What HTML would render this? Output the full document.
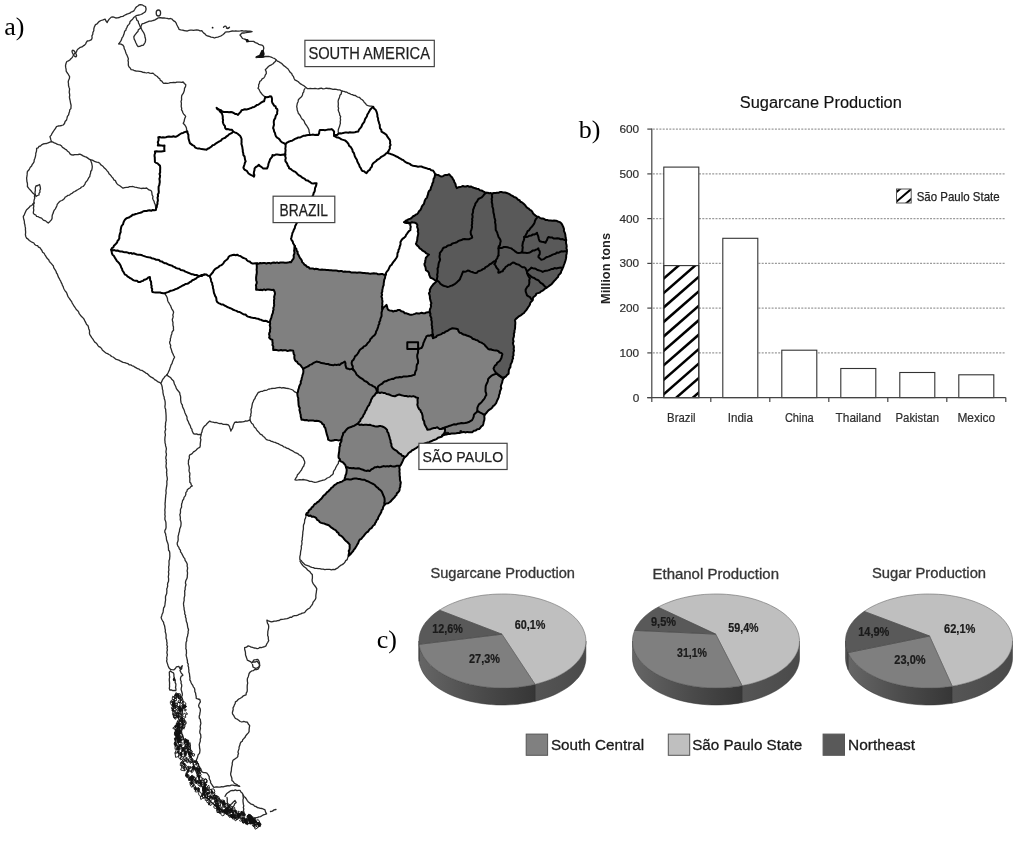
<!DOCTYPE html>
<html><head><meta charset="utf-8"><title>Sugarcane production figure</title>
<style>
html,body{margin:0;padding:0;background:#fff;}
body{width:1024px;height:842px;overflow:hidden;}
svg{display:block;}
</style></head>
<body>
<svg width="1024" height="842" viewBox="0 0 1024 842"><polygon points="257.1,263.4 291.0,262.3 293.5,258.6 294.8,246.1 298.5,254.9 302.2,262.3 309.7,268.6 345.0,271.6 385.7,274.6 384.0,281.6 381.6,293.2 382.4,304.9 382.4,309.0 386.5,304.9 388.2,309.9 393.2,311.5 399.8,309.9 404.8,313.2 411.5,314.8 416.5,313.2 423.1,313.2 429.7,312.3 431.4,318.2 432.2,326.5 433.1,334.8 433.1,338.1 440.0,334.6 447.1,331.0 452.5,328.3 457.8,329.2 459.6,332.8 466.7,335.5 475.7,339.9 482.8,343.5 488.1,348.8 497.0,350.6 502.4,354.2 500.6,359.5 497.0,363.1 493.5,368.4 497.0,373.8 503.3,378.2 504.2,377.3 502.4,380.9 500.6,389.8 498.8,397.0 495.3,404.1 489.9,409.4 486.3,413.0 484.6,414.8 483.7,421.9 482.8,425.5 479.2,429.0 473.9,430.8 472.2,432.2 462.2,432.2 454.7,433.5 444.7,434.7 439.8,437.2 434.8,439.7 424.8,443.5 417.3,447.2 409.8,452.2 404.7,457.3 402.1,462.3 399.6,466.1 399.6,474.8 400.8,482.3 399.6,489.8 394.6,497.3 389.6,502.2 384.6,504.7 379.7,514.7 374.7,524.7 364.7,534.7 359.7,539.7 357.2,544.6 352.2,552.1 348.5,555.9 349.7,544.6 344.7,539.7 334.8,529.7 327.3,524.7 319.8,522.2 314.8,517.2 306.1,514.7 309.8,509.7 317.3,502.2 324.8,494.8 334.8,484.8 344.7,479.8 346.5,472.0 346.0,467.3 344.0,463.5 340.0,461.0 338.5,456.0 339.5,447.0 341.4,439.7 333.1,440.6 328.1,439.7 326.5,433.1 324.0,424.8 319.8,421.5 313.2,420.6 301.5,419.8 299.9,411.5 298.2,399.8 297.4,393.2 299.9,384.9 301.5,379.9 303.2,373.2 303.2,369.1 301.5,366.6 294.9,359.9 293.2,350.8 273.3,350.0 272.4,340.0 269.1,337.5 269.9,330.0 269.8,322.2 273.6,309.7 274.8,292.3 273.6,289.8 256.1,289.8 257.1,263.4" fill="#808080" stroke="none"/>
<polygon points="435.2,174.3 441.3,176.6 449.1,174.3 452.2,177.4 455.3,183.5 456.8,188.2 461.4,186.6 467.6,185.9 475.3,188.2 483.1,191.3 486.1,192.8 492.3,193.6 501.4,192.1 508.5,193.6 517.0,198.5 524.2,204.2 529.9,209.9 535.6,215.6 539.8,217.8 545.5,219.9 554.1,220.6 559.8,222.1 562.6,225.6 564.8,232.7 566.2,239.9 566.9,249.8 566.2,257.0 564.8,262.6 562.6,268.3 559.8,274.0 555.5,279.7 549.8,285.4 545.5,288.3 539.8,292.6 536.3,293.6 532.7,298.9 529.1,306.0 523.8,313.2 518.4,316.7 514.9,320.3 514.9,329.2 513.1,339.9 514.0,350.6 512.2,361.3 509.5,368.4 508.6,373.8 504.2,377.3 503.3,378.2 497.0,373.8 493.5,368.4 497.0,363.1 500.6,359.5 502.4,354.2 497.0,350.6 488.1,348.8 482.8,343.5 475.7,339.9 466.7,335.5 459.6,332.8 457.8,329.2 452.5,328.3 447.1,331.0 440.0,334.6 433.1,338.1 433.1,334.8 432.2,326.5 431.4,318.2 429.7,312.3 431.4,303.2 428.9,293.2 431.4,286.6 436.7,280.6 430.5,277.8 429.0,273.1 425.9,270.1 424.4,263.9 425.9,257.7 429.0,254.6 425.9,253.1 419.7,248.4 415.9,243.8 417.4,237.6 418.2,229.9 416.6,223.7 412.0,222.2 408.9,222.9 404.3,222.2 405.8,220.6 412.0,217.5 418.2,212.9 421.3,208.3 424.4,202.1 427.4,195.9 428.2,192.8 430.5,189.7 432.1,185.1 433.6,178.9 435.2,174.3" fill="#595959" stroke="none"/>
<polygon points="376.8,392.5 383.2,392.9 389.9,394.8 394.9,396.3 399.8,394.6 404.8,396.1 414.8,396.6 418.1,397.9 417.3,404.8 422.3,414.8 424.8,424.8 427.3,429.8 437.3,427.3 440.0,429.0 444.7,428.5 444.7,432.2 442.0,435.5 439.8,437.2 434.8,439.7 424.8,443.5 417.3,447.2 409.8,452.2 404.7,457.3 399.6,453.6 395.0,450.0 392.1,447.4 389.6,437.4 387.1,429.9 382.4,426.5 374.7,426.2 369.9,424.8 359.7,424.9 358.0,423.8 363.0,416.5 366.4,409.8 369.7,403.2 373.0,396.5 376.8,392.5" fill="#c0c0c0" stroke="none"/>
<g fill="none" stroke="#2a2a2a" stroke-width="1.3" stroke-linejoin="round" stroke-linecap="round">
<polyline points="51.5,141.6 50.9,139.9 50.5,138.3 49.9,136.6 51.3,135.1 52.1,133.3 53.2,131.6 54.3,130.0 55.5,128.4 56.5,126.7 58.1,126.0 59.9,125.9 61.6,125.5 63.2,125.0 64.5,123.5 65.1,121.5 66.5,120.0 67.0,118.2 67.4,116.4 68.6,114.8 69.0,113.0 69.6,111.5 69.7,109.9 70.9,108.6 71.0,107.0 71.1,105.2 70.6,103.5 70.3,101.7 70.0,100.0 69.6,98.5 69.4,97.0 69.7,95.5 69.6,94.0 69.2,92.3 69.4,90.6 69.6,88.9 69.0,87.2 68.5,85.5 68.5,83.7 68.2,82.0 68.6,80.2 69.4,78.5 69.6,76.6 68.8,75.2 68.0,73.8 67.0,72.5 66.2,71.1 66.1,69.3 65.7,67.4 65.5,65.6 66.0,63.5 66.8,61.5 68.4,60.9 69.8,60.0 70.9,58.8 72.1,57.6 72.9,56.2 73.7,54.7 74.9,53.2 76.4,52.0 76.9,50.5 77.8,49.2 79.1,48.2 80.3,47.3 82.0,46.9 83.2,45.9 84.6,45.1 85.7,43.9 86.3,42.3 87.3,41.0 89.5,40.7 91.4,39.7 92.1,37.9 91.9,35.9 92.8,34.2 92.9,32.4 93.8,30.8 93.8,29.0 94.2,27.3 95.5,24.6 97.1,23.9 98.2,22.5 99.4,21.3 101.0,20.5 103.1,19.9 105.1,19.1 106.0,21.0 107.2,22.6 108.0,20.8 109.2,19.1 111.3,17.1 112.9,16.9 114.4,17.3 115.8,18.0 117.4,17.8 119.3,17.5 121.0,16.6 122.9,16.4 124.2,15.5 125.5,14.8 126.9,14.1 128.4,13.7 129.9,13.2 131.0,12.1 132.5,11.6 133.8,10.9 134.7,9.5 135.5,8.0 136.6,6.8 137.9,6.0 139.0,5.0 140.5,4.6 142.0,4.8 143.7,5.8 145.5,6.5 146.1,9.0 145.7,10.8 144.8,12.3 143.5,13.0 142.2,13.9 140.8,14.5 139.3,15.0 137.1,15.3 135.2,16.4 133.7,17.6 132.6,19.2 131.1,20.5 130.0,21.7 129.7,23.3 128.7,24.6 127.6,25.8 127.0,27.3 126.2,28.6 125.9,30.2 124.6,31.3 124.3,32.8 123.8,34.6 123.1,36.3 122.0,37.8 121.5,39.6 120.7,41.1 119.8,42.5 118.8,43.8" />
<polyline points="118.8,43.8 121.0,44.1 122.9,45.1 123.9,46.7 124.2,48.6 125.1,50.2 125.6,52.0 126.2,53.7 127.1,55.4 127.7,57.1 128.4,58.8 128.0,60.5 128.4,62.2 128.3,63.9 128.4,65.6 129.1,67.1 130.4,68.2 131.1,69.7 132.9,69.8 134.4,70.7 136.1,71.0 137.9,71.1 139.7,71.3 141.4,71.6 143.0,72.3 144.8,72.5 146.4,73.0 148.1,72.5 149.7,73.2 151.3,73.3 153.0,73.1 154.3,74.4 155.7,75.5 157.3,76.5 158.4,77.9 159.8,78.7 160.3,80.4 161.8,81.1 162.7,82.4 163.9,83.4 165.5,83.1 167.2,83.4 168.8,83.1 170.4,82.7 172.1,82.7 173.7,82.3 175.3,82.7 176.8,82.1 178.4,82.1 180.0,82.2 181.5,82.4 183.1,82.0 184.4,83.5 185.8,84.8 185.5,86.6 184.5,88.3 184.4,90.2 183.9,91.7 183.4,93.1 182.5,94.4 181.7,95.7 181.5,97.7 181.6,99.7 181.0,101.6 181.4,103.2 181.3,104.9 181.2,106.6 181.7,108.2 181.5,109.9 182.4,111.2 182.9,112.7 183.7,114.1 184.8,115.2 185.7,116.5 184.9,118.1 184.4,119.8 184.1,121.6 183.2,123.2 184.6,124.7 185.7,126.3 186.5,128.2 186.6,129.9 187.4,131.5" />
<polyline points="135.9,17.1 136.4,18.6 136.9,20.2 138.3,21.3 138.5,23.0 139.3,24.4 139.8,25.9 140.7,27.3" />
<polyline points="140.7,27.3 139.8,28.8 138.3,29.8 137.9,31.6 136.6,32.8 135.6,34.1 134.6,35.4 133.8,36.9 134.2,39.1 135.2,41.0 135.7,42.5 136.4,43.8 137.0,45.2 137.9,46.5 139.8,46.4 141.5,45.5 143.4,45.1 144.2,43.8 145.1,42.5 145.5,41.0 145.6,39.1 145.0,37.3 144.8,35.5 144.3,34.0 143.7,32.7 142.8,31.4 142.0,30.1 141.4,28.7 140.7,27.3" />
<polyline points="140.7,27.3 141.3,25.6 142.0,23.9 143.9,23.3 145.7,22.6 147.5,21.9 149.3,21.1 151.2,21.1 153.0,20.5 154.5,20.2 155.8,19.4 157.1,18.6 158.4,17.8 160.2,17.7 162.1,18.0 163.9,17.8 165.5,18.1 167.2,18.3 168.8,18.8 170.5,18.5 172.1,19.1 173.3,20.6 175.1,21.6 176.2,23.2 176.8,24.8 177.6,26.3 178.5,27.8 179.0,29.4 180.7,29.9 182.4,30.1 184.1,30.5 185.8,30.8 187.4,31.0 188.9,30.4 190.4,30.1 191.9,30.2 193.5,30.4 195.0,30.1 196.7,30.0 198.4,30.1 200.1,30.8 201.8,30.6 202.7,31.9 203.8,33.1 205.1,34.0 206.2,35.3 207.7,36.0 209.4,36.4 211.1,37.1 212.9,37.3 214.5,38.0 216.1,37.4 217.8,37.2 219.4,36.5 221.2,35.8 222.8,34.8 224.3,33.6 225.3,32.1 227.0,31.8 228.8,31.8 230.6,31.4 232.3,31.0 234.1,31.1 235.7,31.0 237.2,31.2 238.8,31.1 240.4,30.9 241.9,30.6 243.8,31.1 245.8,30.8 247.7,31.1 249.9,31.1 252.1,31.6 249.9,32.0 247.7,32.3 245.8,32.7 243.9,33.0 242.0,33.0 240.0,35.0 241.3,36.7 242.5,38.5 244.1,39.0 245.8,39.4 247.7,41.4 249.7,41.4 251.6,41.3 253.6,41.4 255.4,42.6 257.5,43.3 258.8,44.4 260.5,44.8 262.1,45.2 263.4,46.3 263.8,48.2 263.4,49.8 262.4,51.1 261.6,53.0 261.4,55.0 259.8,56.2 257.7,56.5 256.0,57.5 257.9,57.4 259.7,57.1 261.6,57.4 263.4,57.0 265.3,56.5 267.2,56.4 269.2,56.5 271.2,57.2 273.1,58.0 274.8,58.6 276.1,59.9 277.3,61.1 278.9,61.7 280.3,62.6 281.8,63.5 282.9,64.8 284.1,65.9 285.4,66.7 286.5,67.8 287.8,68.7 288.7,70.0 289.6,71.3 290.4,72.6 291.7,73.6 292.3,75.2 293.5,76.6 294.0,78.2 294.8,79.8 296.4,80.6 298.0,81.5 299.3,82.8 300.6,83.9 302.2,84.8 303.6,85.5 304.8,86.5 306.0,87.5 307.2,88.5 308.8,88.7 310.3,88.5 311.9,88.6 313.4,88.7 315.0,88.4 316.6,88.7 318.1,88.8 319.7,88.5 321.4,88.2 323.0,88.8 324.7,88.7 326.4,88.2 328.0,88.5 329.7,88.5 331.4,88.8 333.0,89.3 334.7,89.1 336.4,89.4 338.0,89.9 339.7,89.8 341.0,90.6 342.4,91.2 344.0,91.4 345.3,92.0 346.9,92.2 348.1,93.1 349.6,93.5 350.9,94.3 352.4,94.7 353.8,95.3 355.4,95.5 356.6,96.5 358.0,97.1 359.6,97.3 360.6,98.8 362.2,99.8 363.5,101.0 364.3,102.5 365.6,103.6 366.5,105.0 368.1,105.7 369.8,106.1 371.6,106.2 373.2,106.7" />
<polyline points="276.1,59.9 275.4,61.4 274.1,62.5 273.1,63.8 271.4,64.8 269.7,65.6 268.2,66.8 266.8,68.3 265.3,69.7 266.2,71.6 266.3,73.6 265.3,74.9 264.8,76.5 263.8,78.0 262.1,78.9 261.2,80.5 259.7,81.6 259.4,83.3 258.6,84.9 258.7,86.7 258.0,88.3 259.1,89.4 259.7,90.8 260.4,92.2 261.4,93.3 262.5,94.8 263.9,95.9 265.3,97.1" />
<polyline points="305.0,88.5 304.0,90.0 303.8,91.8 302.8,93.2 302.5,95.0 301.7,96.5 300.6,97.6 299.3,98.7 298.3,100.0 298.1,101.7 297.3,103.3 297.0,105.0 296.7,106.7 297.1,108.4 297.2,110.1 297.9,111.7 298.3,113.3 299.4,114.5 300.4,115.9 301.1,117.5 302.0,118.9 303.3,120.0 304.3,121.3 304.7,122.9 305.5,124.3 306.6,125.5 307.4,126.9 308.3,128.3 309.0,129.9 309.1,131.6 309.6,133.3 310.0,134.9" />
<polyline points="342.1,91.0 341.4,92.4 341.2,94.1 339.9,95.3 339.6,96.9 339.1,98.4 338.4,99.8 338.1,101.5 338.3,103.2 338.3,104.9 338.1,106.6 338.6,108.3 338.2,110.0 338.8,111.7 339.5,113.3 339.7,115.1 340.7,116.6 340.2,118.2 340.6,119.9 340.2,121.6 340.4,123.3 339.9,124.9 339.5,126.6 338.8,128.2 338.3,129.8 338.2,131.6 338.5,133.5" />
<polyline points="51.5,141.6 49.9,142.2 48.2,142.8 46.6,143.5 44.9,143.7 43.1,144.0 41.6,144.9 40.5,146.0 39.0,146.4 38.1,147.8 36.6,148.3 36.6,150.0 36.4,151.6 35.8,153.2 35.7,154.9 35.4,156.6 34.9,158.3 34.2,159.9 34.1,161.6 33.3,163.2 32.2,164.5 31.6,166.1 30.3,167.3 29.5,168.8 28.6,170.3 27.4,171.5 27.2,173.2 27.1,174.9 26.9,176.5 26.6,178.2 26.8,179.9 26.9,181.5 27.4,183.2 27.5,184.8 27.4,186.5 28.4,187.8 29.4,189.1 30.5,190.3 31.6,191.5 32.5,192.8 33.7,193.8 34.9,194.8 34.4,196.4 34.8,198.1 34.2,199.7 33.9,201.3 34.0,203.0" />
<polyline points="36.0,186.0 37.9,185.5 39.5,184.5 40.0,186.0 40.3,187.5 40.5,189.0 39.8,190.4 40.0,192.1 39.0,193.4 39.0,195.0 37.4,195.5 36.0,196.5 35.4,195.1 35.1,193.5 35.0,192.0 35.4,190.5 35.3,189.0 35.4,187.4 36.0,186.0" />
<polyline points="34.0,203.0 33.6,204.7 33.8,206.4 33.4,208.0 33.8,209.8 33.5,211.4 33.3,213.1 34.3,214.3 35.8,215.0 36.6,216.4 38.3,216.7 39.9,217.7 41.6,218.1 42.7,219.4 44.0,220.4 45.7,220.9 46.9,222.1 48.2,223.1 49.4,222.1 50.4,220.9 51.5,219.8 52.1,218.2 52.1,216.4 52.4,214.7 53.2,213.1 53.6,211.5 54.3,210.1 55.4,208.8 56.1,207.4 56.8,206.0 57.2,204.4 58.2,203.1 59.2,202.0 60.4,201.0 61.9,200.5 63.2,199.6 64.3,198.7 65.1,197.2 66.5,196.5 67.7,195.4 69.5,195.1 70.6,194.0 72.1,193.3 73.3,192.2 74.8,191.5 76.2,190.6 77.6,189.8 78.9,189.0 80.4,188.2 81.5,187.0 83.1,186.5 84.1,185.3 85.0,184.2 85.4,182.6 86.4,181.5 87.4,180.4 88.1,179.0 88.8,177.6 89.8,176.5 90.0,174.8 90.6,173.2 90.7,171.5 91.8,170.0 92.1,168.3 92.3,166.6 92.0,164.9 91.7,163.2 91.1,161.5 90.6,159.9" />
<polyline points="51.5,141.6 52.9,142.1 54.3,142.8 55.7,143.3 57.0,144.2 58.4,144.6 59.9,144.9 61.3,145.7 62.3,147.2 63.7,148.1 65.0,149.1 66.5,149.9 67.6,151.3 69.1,152.3 70.0,153.9 71.5,154.9 73.2,155.0 74.8,154.7 76.5,154.6 78.2,154.5 79.8,154.1 81.5,154.9 83.1,155.9 84.8,156.6 86.4,157.1 87.8,158.1 89.2,159.1 90.6,159.9" />
<polyline points="90.6,159.9 92.3,160.1 93.7,160.9 95.2,161.7 96.7,162.2 98.3,162.4 99.8,163.2 100.6,164.6 101.9,165.5 103.2,166.5 104.1,167.8 105.3,168.8 106.4,169.9 107.3,171.1 108.4,172.2 109.0,173.7 110.1,174.7 111.1,175.9 112.0,177.1 113.1,178.2 113.8,179.8 115.4,180.6 116.0,182.2 116.9,183.6 118.1,184.8 119.8,185.8 121.4,187.0 123.0,188.2 124.6,187.6 126.3,187.4 128.0,187.3 129.6,186.7 131.3,186.6 133.0,186.5 134.7,187.2 136.5,187.4 138.2,187.8 140.0,188.2 141.7,188.5 143.3,188.2 145.0,188.4 146.6,188.0 147.8,188.9 149.0,189.9 150.5,190.3 151.6,191.4 151.9,193.1 152.1,194.9 153.0,196.5 152.6,198.3 153.3,200.0 154.1,201.4 154.4,203.0 155.2,204.4 155.5,206.0 155.7,208.0 155.9,210.0" />
<polyline points="34.0,203.0 32.7,204.1 31.8,205.5 30.1,206.1 29.1,207.6 27.8,208.7 26.6,209.8 25.7,211.4 25.0,213.1 24.3,214.8 23.3,216.4 23.5,218.1 23.9,219.8 24.4,221.4 24.4,223.2 24.9,224.8 25.1,226.4 25.5,228.1 25.4,229.7 25.6,231.4 25.6,233.0 25.4,234.7 25.8,236.5 26.6,238.1 28.1,239.1 29.3,240.5 30.8,241.5 32.4,242.4 33.9,243.0 34.7,244.5 35.9,245.3 37.6,245.7 38.5,247.1 39.9,247.7 40.9,249.1 41.9,250.5 42.6,252.2 44.1,253.3 44.9,254.8 45.8,256.1 46.5,257.5 47.6,258.7 48.7,259.8 49.3,261.3 50.3,262.5 51.4,263.6 52.4,264.8 53.4,266.0 53.7,267.6 54.5,268.9 55.3,270.1 56.1,271.5 56.5,273.0 57.4,274.2 57.9,275.7 58.4,277.1 59.2,278.4 59.9,279.8 60.7,281.1 61.2,282.6 62.0,283.9 62.4,285.4 63.2,286.6 63.6,288.2 64.3,289.5 65.1,290.8 66.1,292.0 66.9,293.3 67.3,294.8 67.9,296.3 68.8,297.7 69.7,299.0 70.7,300.3 71.6,301.6 72.2,303.1 73.1,304.5 73.9,305.9 74.8,307.2 75.7,308.5 76.5,309.8 77.8,310.8 78.7,312.1 79.2,313.7 80.2,314.9 81.1,316.1 82.3,317.2 83.5,318.4 84.4,319.9 85.1,321.4 85.9,322.9 86.6,324.4 87.9,325.6 88.5,327.2 88.7,328.7 89.4,330.1 89.6,331.6 89.4,333.2 89.8,334.7 90.8,336.2 91.7,337.7 92.9,339.1 93.8,340.6 94.8,342.1 96.1,343.0 97.1,344.2 98.0,345.6 99.0,346.7 100.5,347.4 101.6,348.6 102.3,350.1 103.5,351.1 104.7,352.1 106.0,353.1 107.6,353.6 108.9,354.5 110.4,355.3 111.5,356.5 113.1,357.0 114.4,358.0 115.6,359.1 117.2,359.6 118.8,360.1 120.2,360.9 121.6,361.6 123.1,362.4 124.7,362.6 126.2,363.2 127.8,363.6 129.1,364.8 130.8,364.9 132.2,365.8 133.7,366.2 134.9,367.2 136.3,367.9 137.6,368.7 139.2,369.2 140.4,370.2 142.0,370.4 143.3,371.2 144.6,372.1 145.8,373.1 147.3,373.7 148.4,374.8 149.5,376.0 150.8,376.9 152.2,377.6 153.5,378.4 154.6,379.6 156.2,380.4 157.6,381.6 159.3,382.3 160.8,383.3 161.8,385.3 162.3,387.5 162.4,389.1 162.9,390.6 162.9,392.3 163.2,393.8 163.5,395.4 164.2,396.9 164.2,398.5 164.8,400.0 165.1,401.6 165.2,403.2 165.2,404.7 164.9,406.4 165.1,407.9 165.7,409.5 165.7,411.1 165.9,412.6 166.0,414.2 166.1,415.8 166.1,417.4 166.1,418.9 166.2,420.4 165.8,421.9 165.5,423.4 165.6,424.9 165.3,426.4 165.4,427.9 165.7,429.4 165.1,430.9 164.9,432.4 165.3,433.9 165.4,435.4 165.0,436.9 164.9,438.4 164.8,439.9 165.0,441.4 165.0,442.9 165.5,444.4 165.6,445.9 166.1,447.3 166.4,448.9 166.1,450.5 165.9,452.1 166.4,453.7 166.4,455.3 165.9,456.8 165.8,458.4 166.4,460.0 166.0,461.6 166.4,463.2 166.1,464.8 166.0,466.3 166.2,467.8 166.7,469.3 166.8,470.8 166.5,472.3 166.8,473.8 166.7,475.3 167.1,476.8 167.3,478.3 167.3,479.8 166.8,481.3 166.9,482.9 166.9,484.5 166.7,486.0 166.4,487.5 166.2,489.1 165.9,490.6 166.1,492.2 166.1,493.7 165.7,495.2 165.7,496.7 165.5,498.2 165.4,499.7 165.3,501.2 165.2,502.7 165.0,504.2 165.2,505.7 165.2,507.2 165.0,508.7 164.8,510.2 165.0,511.7 165.0,513.2 164.8,514.7 165.2,516.2 164.9,517.8 164.9,519.4 165.5,520.9 165.9,522.4 166.0,524.0 166.0,525.5 166.1,527.1 165.8,528.8 164.9,530.3 164.8,532.1 165.6,533.7 165.8,535.4 166.3,537.0 166.4,538.8 166.7,540.5 167.3,542.1 167.9,543.6 168.3,545.2 168.3,546.8 168.5,548.4 168.5,550.0 169.5,551.4 169.8,553.0 169.8,554.6 169.9,556.2 169.7,557.7 169.6,559.3 169.0,560.8 169.0,562.3 169.1,563.9 169.0,565.5 168.6,567.0 168.8,568.6 168.9,570.2 168.4,571.9 168.8,573.5 168.6,575.1 168.3,576.8 168.6,578.4 168.6,580.0 168.5,581.5 167.8,582.9 167.5,584.4 167.7,586.0 167.3,587.5 166.7,588.9 166.9,590.5 166.8,592.0 166.7,593.6 166.1,595.0 165.5,596.6 165.5,598.3 165.6,600.0 165.3,601.6 165.1,603.2 164.9,604.9 164.6,606.5 163.6,607.9 163.4,609.6 163.2,611.2 162.9,612.8 162.1,614.3 161.7,615.9 161.1,617.4 161.7,619.2 162.6,620.8 163.6,622.4 163.8,624.0 164.5,625.5 164.8,627.0 165.0,628.6 165.4,630.2 165.2,631.8 165.8,633.3 166.1,634.9 166.1,636.6 166.0,638.2 166.7,639.9 166.7,641.5 167.1,643.2 166.8,644.9 167.5,646.5 167.0,648.2 167.4,649.8 167.0,651.4 166.9,653.0 167.4,654.6 167.1,656.2 166.7,657.8 167.0,659.4 166.6,661.0 167.1,662.6 167.6,664.1 168.1,665.7 168.9,667.7 170.4,669.3 172.2,669.6 174.0,669.8 175.4,668.5 176.4,666.9 178.8,666.3 180.0,668.7 181.0,667.1 182.3,665.7 181.8,667.2 181.7,668.7 180.0,670.4 181.1,672.8 182.1,674.0 182.9,675.2 181.1,676.4 180.5,678.1 180.5,680.0 181.2,681.5 181.0,683.2 181.7,684.7 181.7,686.3 181.3,687.8 181.1,689.4 181.7,691.5 182.3,693.6 182.3,695.2 181.7,696.6 182.0,698.4 182.9,700.1 183.1,701.7 183.1,703.3 183.3,704.8 183.1,706.4 183.0,708.0 182.8,709.6 182.4,711.2 182.5,712.8 182.1,714.4 182.0,716.0 182.5,717.6 182.5,719.2 182.6,720.8 182.4,722.4 183.0,724.0 182.2,725.4 181.9,727.0 181.9,728.6 181.0,730.0 181.6,731.7 181.8,733.5 182.7,735.2 183.0,737.0 183.5,738.5 184.0,740.0 184.9,741.4 184.6,743.1 185.3,744.6 186.0,746.0 186.8,747.3 187.1,748.9 187.9,750.2 188.4,751.7 188.8,753.2 189.6,754.5 190.0,756.0 190.7,757.4 191.2,758.8 191.6,760.3 192.5,761.6 193.1,763.1 193.3,764.6 194.0,766.0 194.7,767.4 194.8,769.0 195.7,770.3 196.1,771.8 197.0,773.1 197.2,774.7 198.0,776.0 198.9,777.5 199.5,779.1 200.1,780.7 200.3,782.4 201.0,784.0 201.4,785.5 202.4,786.7 202.9,788.2 203.2,789.7 204.0,791.0 204.2,792.5 204.8,793.9 205.0,795.5 205.0,797.0 206.4,797.8 207.7,798.8 208.8,799.9 210.2,800.7 211.0,802.3 212.5,803.0 213.7,804.0 215.0,805.0 216.1,806.1 217.3,807.1 218.5,808.1 219.9,808.8 221.1,809.8 222.3,810.8 223.7,811.5 224.7,812.8 225.9,813.8 227.4,814.6 228.9,815.4 230.6,815.9 232.2,816.4 233.8,816.9 235.3,817.3 237.0,817.1 238.5,817.7 240.1,818.0 241.6,818.4 243.1,818.8 244.8,818.7 246.3,819.3 247.8,819.7 249.4,820.0 251.0,819.7 252.6,819.2 254.1,818.5 255.6,817.7 257.3,817.6 258.8,816.9 260.5,816.6 261.9,815.7 263.4,814.9 265.0,814.4 266.6,813.8 265.5,811.9 265.0,809.8 263.5,809.2 262.0,808.5 260.3,808.4 258.8,807.8 257.2,807.5 256.0,806.5 254.5,806.1 253.5,804.8 252.1,804.3 250.6,803.8 249.4,802.8 248.1,801.7 247.1,800.3 246.3,798.9 245.3,797.5 244.0,796.4 243.1,795.0 242.4,793.2 240.9,791.9 240.0,790.3 238.4,790.3 236.9,790.6 235.3,789.9 233.8,790.6 232.2,790.3 230.5,790.8 229.1,791.9 227.8,792.8 226.5,793.8 225.7,795.1 225.0,796.5" />
<polyline points="243.1,795.0 243.1,796.6 243.4,798.1 243.0,799.7 243.0,801.3 243.2,802.8 243.4,804.4 243.8,805.9 243.3,807.5 243.8,809.0 243.4,810.6 244.0,812.2 243.8,813.7 243.9,815.3" />
<polyline points="270.5,811.5 272.4,811.1 274.1,809.9 276.0,809.5" />
<polyline points="164.8,293.3 165.4,294.7 166.4,296.0 167.0,297.3 167.5,298.8 167.6,300.5 168.2,301.8 169.1,303.2 169.8,304.5 170.7,305.9 171.2,307.6 171.9,309.1 172.9,310.5 173.6,312.0 173.3,313.5 172.8,315.0 173.2,316.6 172.8,318.0 172.3,319.5 172.5,321.0 173.0,322.5 172.9,324.0 173.0,325.5 173.5,327.0 173.4,328.5 173.6,330.0 172.0,332.2 171.8,333.9 171.1,335.5 170.9,337.2 170.3,338.8 170.4,340.5 169.6,342.1 169.9,343.8 170.7,345.4 170.4,347.2 171.1,348.8 171.6,350.4 172.0,352.1 172.9,353.7 173.6,355.5 174.6,357.1 173.8,358.6 173.2,360.1 172.5,361.7 172.1,363.4 171.1,364.8 170.6,366.4 170.0,367.9 169.6,369.6 168.8,371.3 168.0,373.0 167.1,374.6" />
<polyline points="167.1,374.6 166.0,375.7 164.8,376.6 164.0,377.9 163.0,379.0 162.2,380.4 161.6,381.9 160.8,383.3" />
<polyline points="167.1,374.6 168.1,376.1 169.7,377.0 171.0,378.1 172.0,379.6 173.6,381.0 174.0,382.5 174.4,384.0 175.1,385.3 175.8,386.7 176.2,388.2 177.0,389.5 178.5,391.2 179.8,393.0 179.9,394.6 180.5,396.1 180.7,397.7 180.6,399.3 180.8,400.8 181.0,402.4 181.6,403.8 182.4,405.1 182.5,406.7 183.2,408.1 183.9,409.5 184.4,410.9 184.8,412.4 185.5,413.9 186.2,415.4 187.0,417.0 187.0,418.8 187.6,420.4 188.4,421.8 188.9,423.4 189.8,424.9 190.5,426.3 190.8,427.9 191.9,429.2 192.1,430.8 192.8,432.2 193.5,433.6 194.9,434.2 196.6,433.8 198.0,434.6 199.6,434.3 201.0,434.9 200.8,436.4 200.3,438.0 200.9,439.6 200.6,441.1 200.4,442.7 200.2,444.2 200.3,445.8 199.8,447.3 198.4,448.0 197.1,449.0 196.1,450.2 194.9,451.1 193.5,451.9 192.5,453.2 191.3,454.2 189.8,454.8 189.2,456.2 189.4,457.8 189.0,459.3 188.4,460.7 188.5,462.3 188.3,463.9 188.8,465.4 189.2,467.0 189.3,468.5 189.0,470.1 189.2,471.7 189.9,473.2 189.8,474.8 189.5,476.6 189.9,478.5 189.8,480.4 189.8,482.2 190.9,483.3 191.2,484.9 192.3,486.0 190.8,486.6 189.9,488.0 188.5,488.7 187.3,489.7 186.9,491.4 185.8,492.7 185.8,494.5 185.1,496.1 184.0,497.4 183.7,499.1 182.6,500.5 182.3,502.2 181.7,503.7 181.5,505.3 181.6,506.9 180.9,508.4 180.4,509.9 180.5,511.6 180.4,513.2 179.8,514.7 180.2,516.3 180.4,518.0 180.2,519.7 180.8,521.3 181.1,522.9 181.0,524.6 180.8,526.3 180.1,527.9 179.6,529.5 179.5,531.3 178.9,532.9 178.6,534.6 178.1,536.2 178.1,537.9 178.2,539.6 177.9,541.3 177.2,542.9 177.3,544.6 177.9,546.1 178.9,547.4 179.3,548.9 180.5,550.2 180.5,551.9 181.6,553.2 182.3,554.6 183.0,556.0 183.7,557.4 184.8,558.7 185.1,560.3 186.0,561.6 186.8,563.0 187.3,564.5 187.1,566.1 187.6,567.6 187.5,569.2 187.1,570.8 187.5,572.3 187.5,573.9 187.3,575.4 187.3,577.0 186.9,578.6 186.1,580.0 185.6,581.5 185.4,583.1 186.0,584.7 185.5,586.3 185.1,587.8 185.2,589.4 184.6,590.9 184.8,592.5 184.7,594.1 184.8,595.6 184.3,597.1 184.1,598.7 184.2,600.3 183.8,601.8 183.5,603.3 183.6,604.9 183.8,606.4 184.1,607.9 184.1,609.4 184.5,610.9 184.8,612.4 184.7,614.0 185.6,615.4 185.4,616.9 186.1,618.4 186.1,619.9 186.4,621.6 187.1,623.2 187.4,624.9 187.6,626.6 188.0,628.3 188.6,629.9 188.1,631.4 188.2,633.0 187.7,634.6 187.6,636.1 187.0,637.6 186.7,639.2 186.8,640.8 186.1,642.3 186.0,643.9 185.9,645.4 186.0,647.0 185.8,648.5 186.4,650.1 186.4,651.7 186.5,653.2 186.1,654.8 186.4,656.4 186.8,657.9 187.1,659.5 187.5,661.0 187.4,662.7 188.3,664.1 188.0,665.8 188.6,667.3 188.7,668.9 188.9,670.4 188.8,672.0 189.4,673.5 189.6,675.1 189.7,676.7 190.0,678.2 189.8,679.8 190.6,681.1 191.1,682.7 191.9,684.1 192.8,685.4 193.3,686.9 194.4,688.1 194.8,689.7 194.8,691.5 195.6,693.1 195.8,694.8 196.2,696.5 196.2,698.3 198.0,699.0 199.8,699.5 200.4,701.9 199.3,703.6 198.6,705.5 199.0,707.1 200.1,708.5 200.4,710.2 200.2,711.7 199.9,713.2 199.7,714.7 199.2,716.2 199.3,718.1 200.4,719.7 200.5,721.5 200.9,723.3 200.5,724.9 200.1,726.6 200.5,728.3 200.1,729.9 199.8,731.6 199.9,733.1 200.7,734.5 200.8,736.1 200.9,737.6 200.2,739.3 200.3,741.2 199.7,742.9 199.2,744.7 199.5,746.5 199.6,748.2 200.0,750.0 199.8,751.8 199.5,753.4 198.2,754.7 197.8,756.2 197.4,757.8 196.6,759.5 196.2,761.3 197.3,762.7 198.2,764.2 198.9,765.8 199.8,767.3 200.8,768.8 201.4,770.4 202.1,772.0 203.6,772.7 205.3,772.7 206.9,773.2 208.2,774.9 209.3,776.8 209.2,778.4 209.8,779.8 210.6,781.2 210.5,782.7 211.7,784.3 212.7,786.0 214.0,787.5 215.5,787.0 217.0,787.0 218.6,787.1 220.1,787.1 221.7,786.7 223.2,786.8 224.7,786.3 226.4,786.0 228.0,785.7 229.7,785.9 231.3,785.2 233.0,785.1 234.6,785.6 236.3,785.5 238.0,785.9 239.6,786.3" />
<polyline points="201.0,434.9 201.3,433.3 202.0,431.9 202.2,430.3 202.8,428.8 203.5,427.4 204.6,426.0 206.0,424.9 207.1,423.5 208.4,422.3 209.7,421.1 211.3,421.9 213.0,422.1 214.6,422.6 216.4,422.5 218.1,423.1 219.7,423.6 221.5,423.5 223.2,424.3 224.9,424.3 226.7,424.5 228.4,424.9 229.4,426.3 229.9,427.9 230.5,429.5 230.9,431.1 231.5,429.6 232.5,428.3 233.0,426.8 233.3,425.2 234.0,423.8 234.7,422.4 236.2,422.0 237.8,422.4 239.3,421.8 240.9,422.0 242.5,421.8 244.0,421.7 245.5,420.9 247.1,421.1 248.5,420.5 250.0,420.2" />
<polyline points="250.0,420.2 250.1,418.7 250.1,417.1 250.9,415.7 250.7,414.1 251.2,412.7 251.2,411.1 251.0,409.6 251.6,408.1 251.9,406.4 252.2,404.7 252.5,403.1 253.3,401.5 253.9,399.8 255.0,398.5 255.5,396.8 256.5,395.4 257.4,393.9 258.3,392.4 259.8,392.0 261.1,391.3 262.7,391.3 264.0,390.5 265.6,390.4 267.0,390.0 268.4,389.2 269.9,389.0 271.5,388.5 273.2,388.3 274.9,388.4 276.6,387.9 278.2,387.6 279.9,387.4 281.5,388.0 283.3,387.7 284.9,388.0 286.6,388.3 288.3,388.5 289.9,389.0 291.6,389.5 293.1,390.3 294.3,391.6 295.9,392.4 297.4,393.2" />
<polyline points="250.0,420.2 250.7,421.7 251.6,423.2 253.0,424.2 253.7,425.8 254.4,427.2 255.8,428.3 256.6,429.8 257.6,431.0 258.7,432.1 259.7,433.4 260.8,434.4 262.3,435.1 263.2,436.5 264.6,437.3 265.5,438.6 266.6,439.7 268.1,440.1 269.6,440.3 270.9,441.1 272.4,441.5 273.7,442.1 275.2,442.4 276.6,443.1 278.2,443.6 279.5,444.5 280.9,445.2 282.4,445.7 283.7,446.8 285.3,447.2 286.6,448.1 288.2,448.5 289.6,449.4 291.0,450.2 292.5,450.8 293.8,451.8 295.2,452.6 296.7,453.2 298.2,453.9 299.3,455.0 300.9,455.7 302.0,456.9 303.2,458.0 303.8,459.6 304.6,461.2 304.8,463.0 304.2,464.4 303.8,466.0 302.8,467.2 302.1,468.6 301.5,470.0 300.5,471.2 299.6,472.5 298.6,473.7 297.4,474.8 296.9,476.6 295.8,478.2 294.9,479.8 296.5,480.1 298.2,479.9 299.9,479.6 301.5,479.9 303.1,479.5 304.8,479.8 306.5,480.2 308.1,480.7 309.7,481.4 311.5,481.4 313.1,481.9 314.8,482.3 316.6,482.2 318.2,481.7 319.8,481.1 321.5,480.7 323.1,480.1 324.8,479.8 326.0,478.9 327.2,478.0 328.7,477.5 330.0,476.7 331.0,475.6 332.3,474.8 333.3,473.5 333.4,471.8 334.2,470.4 335.2,469.1 335.7,467.6 336.5,466.2 337.3,464.8 338.4,463.4 338.5,461.5 339.5,460.0" />
<polyline points="306.1,514.7 305.9,516.4 305.5,518.1 304.7,519.7 304.6,521.4 304.4,523.1 303.6,524.7 303.4,526.2 303.4,527.7 303.4,529.2 303.1,530.7 302.8,532.2 302.8,533.7 302.6,535.2 302.5,536.7 302.2,538.2 302.3,539.7 301.7,541.3 302.0,543.0 301.8,544.7 301.2,546.3 301.4,548.0 301.1,549.6 300.7,551.2 300.5,552.9 300.4,554.6 299.9,556.2 299.8,557.9 299.9,559.6 301.3,560.7 302.3,562.2 303.6,563.3 304.8,564.6 306.2,565.2 307.7,565.6 309.1,566.0 310.4,566.9 311.9,567.3 313.4,567.6 314.8,568.3 316.5,568.3 318.2,568.6 319.8,568.7 321.5,569.2 323.2,569.1 324.8,569.6 326.5,569.3 328.1,569.3 329.8,569.3 331.5,569.8 333.1,569.3 334.8,569.6 336.3,568.6 337.9,567.8 339.2,566.6 340.6,565.4 342.2,564.6 343.7,563.6 344.9,562.3 345.7,560.6 347.2,559.6 347.7,557.7 348.5,555.9" />
<polyline points="299.9,561.0 300.9,562.8 302.0,564.5 303.4,566.2 305.2,567.5 306.5,568.6 307.6,570.0 309.0,571.0 310.2,572.1 311.1,573.5 312.3,574.6 312.4,576.4 312.4,578.2 312.1,579.9 312.3,581.7 313.0,583.3 313.9,584.7 315.0,586.0 316.0,587.4 316.8,588.9 316.5,590.7 316.3,592.5 316.0,594.2 315.8,596.0 315.9,597.8 315.3,599.4 314.2,600.8 313.1,602.2 312.6,603.8 311.7,605.3 310.6,606.7 309.8,608.0 308.4,608.8 307.1,609.6 306.0,610.7 305.2,612.0 303.8,612.9 302.2,613.1 300.8,613.9 299.2,614.3 297.8,615.1 296.3,615.6 294.6,615.7 293.1,616.1 291.7,617.3 290.0,617.2 288.6,618.1 287.0,618.7 285.4,618.9 283.8,619.2 282.2,619.3 280.6,619.5 279.2,620.5 277.6,620.6 276.1,621.2 274.4,621.1 272.9,621.5 271.3,621.8 269.8,621.3 268.3,620.8 266.9,620.1 267.1,621.7 267.5,623.3 268.4,624.7 268.7,626.3 268.6,628.1 268.2,629.8 267.8,631.6 267.8,633.4 267.6,635.2 268.3,637.0 268.3,638.8 268.7,640.6 267.8,642.3 266.7,644.0 266.0,645.9 264.6,646.6 263.1,647.0 261.6,647.6 260.0,647.4 258.6,648.3 257.1,648.6 255.6,648.2 254.0,648.0 252.6,647.4 251.1,647.2 249.7,646.3 248.2,645.9 246.5,647.1 244.6,647.7 244.7,649.5 245.2,651.2 245.5,653.0 245.5,654.8 246.1,656.6 246.8,658.4 247.3,660.2 248.9,660.9 250.4,661.6 251.7,662.8 253.4,661.9 255.4,662.0 257.1,661.1 258.1,662.5 259.2,663.9 259.8,665.5 259.1,667.4 258.0,669.1 256.4,669.6 254.7,669.6 253.3,670.7 251.7,670.9 250.2,672.0 249.1,673.5 248.7,675.1 248.3,676.7 247.5,678.2 247.3,679.8 247.4,681.5 247.7,683.2 247.3,684.9 247.2,686.6 247.2,688.3 247.3,690.0 247.1,691.6 246.2,693.1 246.1,694.8 244.5,695.4 242.9,696.2 241.7,697.5 240.2,698.3 238.8,699.0 237.7,700.0 236.8,701.2 235.4,701.9 235.2,703.5 234.4,704.9 233.9,706.4 233.0,707.8 233.2,709.3 232.9,710.8 232.4,712.3 232.5,713.8 233.6,715.3 234.4,716.9 235.4,718.5 237.2,719.2 238.7,720.3 240.2,721.5 241.9,722.0 243.8,721.4 245.5,722.0 247.3,722.1 248.3,724.0 249.7,725.7 249.3,727.6 249.1,729.6 249.1,731.6 248.1,733.1 246.8,734.5 245.7,735.9 244.9,737.6 243.8,738.6 242.7,739.7 242.3,741.3 240.9,742.1 240.2,743.5 239.8,745.3 239.1,747.0 239.0,748.9 238.4,750.6 237.9,752.1 238.5,753.6 237.9,755.1 237.8,756.6 236.7,757.7 235.5,758.5 234.3,759.4 233.0,760.2 232.6,761.7 232.2,763.1 232.3,764.6 231.9,766.1 231.5,767.9 231.4,769.7 231.2,771.5 230.7,773.2 230.7,775.1 231.4,776.8 231.9,778.5 231.9,780.4 233.2,781.5 234.1,782.9 235.4,783.9 236.9,784.5 238.1,785.7 239.6,786.3" />
<polyline points="251.7,662.8 252.9,661.3 254.0,659.8 255.9,659.7 257.8,659.3 258.9,661.0 259.5,663.0 259.5,665.1 258.8,667.0 257.3,667.9 255.5,668.3 253.0,667.0 252.5,664.5" />
<polyline points="170.4,671.0 169.3,672.2 169.4,673.9 169.4,675.5 169.7,677.1 169.3,678.8 169.3,680.4 169.5,681.9 169.6,683.4 169.5,685.0 169.6,686.7 169.3,688.4 169.8,690.0 171.3,689.9 172.8,690.6 174.3,690.3 175.8,690.6 176.0,689.1 175.5,687.5 175.8,686.0 175.9,684.1 175.1,682.4 175.3,680.5 174.6,678.8 174.1,677.3 173.9,675.8 173.9,674.3 173.4,672.8 171.8,672.1 170.4,671.0" />
<polyline points="227.0,797.5 227.3,799.3 227.2,801.2 227.5,803.0 227.9,805.1 229.0,807.0 229.9,805.7 230.8,804.5 232.0,803.5 233.4,801.9 235.0,800.5 236.2,802.5 234.7,803.8 234.0,805.7 232.5,807.0 231.6,809.0 230.8,811.0 232.4,811.9 233.8,813.0" />
<ellipse cx="158.4" cy="13" rx="2.2" ry="3" />
<ellipse cx="74.3" cy="53.5" rx="1.4" ry="3.6" transform="rotate(-30 74.3 53.5)"/>
<path d="M223.5,27.2 q2,-2 3,0 q1,2 3,0 q-1,2 -3,1"/>
</g>
<g fill="#111"><circle cx="212.6" cy="27.7" r="0.9"/><ellipse cx="447" cy="433.2" rx="2.6" ry="1.4"/><ellipse cx="460.8" cy="431.2" rx="1.3" ry="1.2"/><ellipse cx="174" cy="679.5" rx="1.2" ry="1.8"/><path d="M245,39 l3,0 l1.5,3 l-3,0.5 z"/><path d="M261.5,50 l2.2,0 l1,4 l-1,3.5 l-4.5,0.5 l-4,-1.5 l4,-1.5 z"/></g>
<g stroke="#111" stroke-width="0.9" stroke-linejoin="round">
<polygon points="176.9,695.2 175.6,695.6 175.5,694.3 176.4,693.6" fill="#111"/>
<polygon points="174.9,694.7 175.6,693.8 176.5,695.3 175.1,696.0" fill="none"/>
<polygon points="179.0,694.7 178.4,697.5 176.9,695.1 178.0,693.6" fill="#111"/>
<polygon points="178.1,697.0 176.1,697.1 175.4,695.4 175.9,692.7 178.1,694.0" fill="none"/>
<polygon points="173.7,697.3 174.7,695.5 175.9,695.3 176.6,696.4 176.8,698.4 175.3,697.8" fill="none"/>
<polygon points="175.2,698.8 174.9,697.1 174.6,696.1 175.3,694.9 176.1,695.9 176.8,696.7 176.0,697.4" fill="none"/>
<polygon points="173.0,699.7 172.2,698.2 172.8,696.1 174.2,697.3 174.7,698.3 174.3,699.7" fill="none"/>
<polygon points="177.9,693.8 180.2,693.8 180.8,696.2 180.3,698.0 178.6,698.7 178.4,696.6" fill="none"/>
<polygon points="179.3,698.3 178.1,697.7 179.0,696.4 180.3,697.1" fill="none"/>
<polygon points="180.3,696.0 180.7,698.1 179.3,698.7 178.3,698.5 178.1,697.0 178.8,695.3" fill="none"/>
<polygon points="179.5,697.6 180.6,696.9 180.5,698.5 179.8,699.2 179.2,698.4" fill="none"/>
<polygon points="174.9,698.2 176.3,698.6 176.5,700.6 175.2,700.5 173.8,699.8" fill="none"/>
<polygon points="171.5,702.7 171.0,700.9 172.1,699.5 173.4,700.0 175.3,700.8 174.1,702.9 172.7,703.0" fill="none"/>
<polygon points="182.5,698.1 181.2,699.9 179.9,699.2 180.5,697.1" fill="none"/>
<polygon points="173.1,704.1 171.5,705.2 170.4,703.4 170.3,701.7 171.4,701.1 172.2,701.2 173.0,702.1" fill="none"/>
<polygon points="173.5,703.6 172.4,702.3 172.9,700.6 174.4,701.5" fill="none"/>
<polygon points="179.2,699.8 180.9,700.7 180.0,702.7 177.8,702.1" fill="none"/>
<polygon points="172.8,701.5 174.5,701.0 174.8,702.8 174.1,703.8 173.0,703.4" fill="none"/>
<polygon points="182.8,701.7 181.2,703.6 180.1,702.0 181.0,699.9" fill="none"/>
<polygon points="175.2,703.2 174.6,704.9 173.4,705.3 172.5,704.2 172.8,702.6 174.2,701.3" fill="none"/>
<polygon points="173.7,703.6 175.0,704.3 174.7,706.5 173.0,706.8 171.9,705.2 172.6,703.4" fill="#111"/>
<polygon points="172.7,705.0 173.5,704.0 174.1,703.5 175.4,703.2 174.8,704.7 174.7,706.0 173.6,705.9" fill="none"/>
<polygon points="175.8,703.5 177.0,702.9 177.5,704.4 177.2,705.5 176.8,707.7 175.3,706.5 174.9,704.7" fill="none"/>
<polygon points="180.1,704.7 179.0,706.8 176.6,705.7 177.6,702.8 179.6,702.1" fill="none"/>
<polygon points="182.5,701.6 184.3,701.9 185.8,703.1 185.6,705.7 183.8,705.5 182.8,705.1 182.0,703.8" fill="none"/>
<polygon points="175.3,708.1 173.3,708.1 173.1,705.4 174.8,704.6 176.1,706.0" fill="none"/>
<polygon points="174.7,708.2 173.6,707.3 174.6,706.1 175.6,707.2" fill="none"/>
<polygon points="172.6,706.1 174.1,706.6 174.1,708.6 172.5,710.0 171.4,707.8" fill="none"/>
<polygon points="173.1,707.9 173.4,708.9 172.8,710.0 172.1,709.0 172.2,707.9" fill="#111"/>
<polygon points="178.2,706.8 177.3,709.3 175.6,709.3 175.2,707.4 176.2,705.5" fill="none"/>
<polygon points="186.7,706.5 184.7,708.4 182.8,708.3 182.6,705.4 184.6,704.7" fill="#111"/>
<polygon points="180.3,709.3 179.5,706.1 182.0,705.8 182.7,708.7" fill="none"/>
<polygon points="173.3,710.4 173.1,711.4 172.4,711.0 171.8,710.0 172.8,709.7" fill="#111"/>
<polygon points="178.4,710.2 178.3,707.6 179.9,706.2 181.4,707.5 181.5,709.6 180.2,711.9" fill="#111"/>
<polygon points="173.0,709.9 174.4,710.6 174.8,712.6 173.4,711.8" fill="none"/>
<polygon points="180.7,709.2 180.6,710.2 180.1,711.3 179.3,710.7 179.1,709.7 179.3,708.9 180.0,708.8" fill="#111"/>
<polygon points="181.7,711.6 181.2,710.2 181.6,709.0 182.5,709.6 182.7,710.8" fill="#111"/>
<polygon points="175.2,711.4 176.0,709.8 177.8,710.4 177.6,713.0 175.7,713.6" fill="none"/>
<polygon points="173.4,709.5 175.6,711.2 177.1,713.4 175.4,715.8 173.1,715.3 172.7,712.6" fill="none"/>
<polygon points="184.7,709.1 186.2,709.4 186.0,710.7 184.8,711.1" fill="none"/>
<polygon points="179.4,711.1 181.0,711.4 181.2,713.7 179.5,714.0 178.0,712.7" fill="none"/>
<polygon points="174.4,713.9 173.7,715.4 172.9,714.3 173.3,712.8" fill="none"/>
<polygon points="181.1,714.3 179.7,714.2 179.2,712.7 180.6,712.5" fill="none"/>
<polygon points="177.9,712.8 179.1,712.7 179.1,714.2 178.4,714.8 177.3,714.3" fill="#111"/>
<polygon points="178.3,712.9 178.9,716.0 176.8,716.8 175.8,714.0" fill="none"/>
<polygon points="175.9,713.5 177.1,717.1 174.1,718.0 173.2,714.4" fill="none"/>
<polygon points="187.3,713.5 187.2,714.5 186.4,714.4 186.1,713.9 185.9,712.9 186.8,712.8" fill="none"/>
<polygon points="180.8,714.5 181.9,714.4 181.5,715.8 180.7,715.4" fill="none"/>
<polygon points="177.0,716.9 177.2,715.9 178.1,715.4 179.0,716.1 178.9,717.4 178.2,718.3 177.5,717.5" fill="#111"/>
<polygon points="183.1,714.3 184.3,713.2 185.5,714.7 185.7,717.5 183.6,716.7 182.7,715.8" fill="none"/>
<polygon points="177.6,716.8 177.2,715.4 178.3,715.6 179.6,715.4 179.8,717.1 178.6,717.4 177.8,717.9" fill="none"/>
<polygon points="173.6,717.7 173.2,715.4 174.8,715.1 175.6,715.4 176.5,716.8 175.2,717.5" fill="none"/>
<polygon points="181.0,716.2 180.7,718.3 180.0,720.5 178.4,719.1 178.7,717.4 179.4,716.7" fill="none"/>
<polygon points="180.6,718.7 180.9,717.4 181.9,716.9 182.4,718.2 181.7,719.3" fill="none"/>
<polygon points="176.1,717.6 175.9,719.2 174.7,718.9 174.6,716.7" fill="none"/>
<polygon points="183.0,718.2 183.2,719.4 183.0,721.0 181.5,720.7 181.5,719.1 181.7,717.0" fill="none"/>
<polygon points="184.4,718.4 184.7,720.7 183.9,723.0 181.8,723.3 180.9,721.0 181.0,718.7 182.6,718.9" fill="none"/>
<polygon points="178.8,720.4 180.1,718.2 181.7,718.6 182.7,719.9 181.9,721.6 180.6,721.7" fill="none"/>
<polygon points="178.3,722.4 177.6,720.7 178.4,719.7 179.4,720.1 179.5,721.5" fill="none"/>
<polygon points="181.4,721.0 180.8,721.8 180.1,721.8 179.8,721.0 180.0,720.0 180.8,720.3" fill="none"/>
<polygon points="182.9,720.6 184.3,722.4 182.9,724.3 181.6,722.4" fill="none"/>
<polygon points="185.8,723.7 184.7,724.2 183.6,723.2 184.4,721.9 185.2,721.6 185.8,722.4" fill="none"/>
<polygon points="182.0,724.8 178.9,725.3 178.9,720.7 182.7,720.5" fill="none"/>
<polygon points="186.1,723.3 185.5,724.7 184.5,725.4 182.9,725.2 182.3,722.8 183.5,720.3 185.7,720.9" fill="none"/>
<polygon points="178.4,723.1 177.5,725.0 176.7,723.1 177.5,721.0" fill="none"/>
<polygon points="178.5,722.4 179.3,722.6 180.3,723.4 179.9,725.0 178.7,725.2 177.9,724.3 177.3,722.9" fill="#111"/>
<polygon points="180.3,723.7 181.9,723.9 182.5,725.3 182.1,726.6 180.7,727.8 179.9,725.8" fill="none"/>
<polygon points="184.8,727.1 184.1,728.0 183.1,727.6 182.5,726.3 183.0,724.6 184.4,724.3 185.0,725.8" fill="none"/>
<polygon points="183.9,729.2 182.5,727.5 183.0,725.4 184.3,726.9" fill="none"/>
<polygon points="176.1,723.7 177.2,723.5 178.4,723.8 177.9,725.2 177.7,726.4 176.5,726.8 176.6,725.2" fill="#111"/>
<polygon points="178.8,727.8 176.9,727.2 177.9,725.1 179.1,725.9" fill="#111"/>
<polygon points="182.7,727.8 182.0,728.5 181.3,728.6 180.8,727.8 181.1,727.0 181.6,726.8 182.2,726.9" fill="none"/>
<polygon points="174.7,727.3 174.9,725.9 175.7,724.9 176.1,726.3 176.0,727.6" fill="#111"/>
<polygon points="177.3,729.1 177.7,727.2 178.1,725.9 179.6,725.7 180.1,727.8 178.7,728.4" fill="#111"/>
<polygon points="181.7,730.9 179.9,731.5 179.6,729.0 180.7,727.3 183.0,726.6 182.4,729.7" fill="none"/>
<polygon points="179.6,728.0 178.5,731.0 176.1,730.4 174.5,727.9 176.7,726.6 178.0,726.3" fill="none"/>
<polygon points="176.1,724.8 177.8,726.9 176.6,729.1 175.8,730.8 174.7,729.4 172.7,728.2 174.4,726.6" fill="none"/>
<polygon points="178.9,730.4 179.4,728.9 180.5,728.7 181.1,729.7 180.7,730.7 179.9,731.2" fill="none"/>
<polygon points="179.8,729.8 178.8,732.6 177.1,731.2 177.1,729.6 178.1,729.0" fill="none"/>
<polygon points="177.6,731.0 175.8,731.7 175.7,729.5 176.6,728.0 178.2,728.9" fill="none"/>
<polygon points="175.2,730.6 176.0,729.4 176.8,730.5 176.9,731.6 176.2,732.2 175.5,731.7" fill="none"/>
<polygon points="177.1,732.2 176.2,732.0 175.8,730.6 176.8,730.2 177.6,729.7 177.8,730.8 177.6,731.6" fill="none"/>
<polygon points="180.0,732.2 179.2,733.0 178.3,732.8 177.1,731.3 178.6,730.1 180.3,730.2" fill="none"/>
<polygon points="175.9,730.2 176.4,731.8 176.9,733.4 175.5,734.2 174.6,732.7 175.1,731.5" fill="none"/>
<polygon points="178.2,731.0 181.0,731.2 181.0,733.7 179.1,734.6" fill="none"/>
<polygon points="180.5,733.2 179.5,734.3 178.4,733.4 178.4,731.5 180.0,731.4" fill="#111"/>
<polygon points="177.1,732.2 178.2,732.6 178.9,733.8 179.2,736.1 177.4,735.7 176.1,735.2 176.2,733.4" fill="none"/>
<polygon points="174.6,732.3 176.5,731.9 178.6,733.6 177.0,736.2 175.2,735.9 174.4,734.4" fill="#111"/>
<polygon points="177.9,735.7 177.0,736.0 175.9,734.7 177.3,733.6 178.6,734.3" fill="none"/>
<polygon points="176.3,736.3 175.2,735.6 176.0,734.6 176.7,733.9 177.6,734.6 177.5,736.3" fill="#111"/>
<polygon points="179.2,738.4 177.9,736.6 179.1,734.9 180.0,732.7 181.8,733.8 182.7,736.4 181.1,738.4" fill="none"/>
<polygon points="177.7,734.8 178.4,736.3 177.4,737.9 175.8,736.9 176.3,734.8" fill="#111"/>
<polygon points="181.1,736.9 179.5,739.0 178.4,736.8 178.0,734.1 180.0,735.1" fill="none"/>
<polygon points="177.0,735.8 178.2,735.7 179.1,736.9 178.6,738.6 177.1,739.0 176.6,737.3" fill="#111"/>
<polygon points="175.5,737.2 176.5,738.4 176.3,739.8 175.9,741.0 174.9,740.4 174.5,739.5 174.5,738.3" fill="#111"/>
<polygon points="179.7,738.0 178.3,740.1 177.7,737.3 179.2,735.6" fill="#111"/>
<polygon points="178.2,739.9 177.4,742.3 175.0,740.9 176.2,738.5 177.6,738.1" fill="none"/>
<polygon points="179.5,735.4 181.4,736.8 182.4,739.5 179.9,740.5 179.0,738.1" fill="none"/>
<polygon points="179.6,742.0 177.8,743.4 177.1,740.8 177.0,739.2 177.9,737.6 179.4,738.4 179.5,740.0" fill="#111"/>
<polygon points="183.1,737.1 184.3,739.4 182.2,739.9 180.4,739.8 180.0,737.1 181.8,736.0" fill="none"/>
<polygon points="179.2,742.7 177.2,740.6 179.2,738.3 180.6,740.7" fill="none"/>
<polygon points="181.0,738.7 181.5,739.5 181.8,740.7 180.8,740.6 179.8,740.5 180.3,739.3" fill="none"/>
<polygon points="175.2,741.3 176.3,742.8 176.5,744.3 175.6,745.8 174.3,744.7 174.2,743.0" fill="#111"/>
<polygon points="181.1,741.4 180.1,743.0 179.3,741.0 180.4,739.5" fill="none"/>
<polygon points="178.4,744.5 178.7,742.0 179.8,741.5 181.6,742.1 180.6,744.6" fill="none"/>
<polygon points="184.7,740.3 184.8,739.5 185.2,738.5 186.0,739.1 186.0,740.2 185.4,741.1" fill="none"/>
<polygon points="176.2,746.1 175.0,746.0 174.8,744.5 175.8,743.4 176.8,744.7" fill="none"/>
<polygon points="186.5,742.3 184.9,743.0 184.3,740.7 185.7,738.9 187.7,740.3" fill="#111"/>
<polygon points="185.1,742.9 183.8,744.4 182.6,743.1 183.7,741.7" fill="none"/>
<polygon points="176.7,747.2 175.9,746.6 175.3,746.1 175.7,745.4 176.2,744.4 177.1,744.9 177.3,746.1" fill="none"/>
<polygon points="186.5,740.0 188.5,740.1 188.7,742.3 189.0,744.5 187.3,745.4 186.6,743.4 185.9,742.1" fill="#111"/>
<polygon points="178.6,745.7 177.5,748.3 175.1,749.4 175.0,746.2 176.4,744.9" fill="none"/>
<polygon points="178.6,746.7 179.6,745.5 180.3,745.1 182.2,744.5 181.5,746.8 181.2,749.0 179.3,748.7" fill="none"/>
<polygon points="181.4,747.0 180.3,747.1 178.9,745.4 180.8,744.4 181.8,745.6" fill="#111"/>
<polygon points="187.8,741.8 189.4,743.8 189.1,746.4 187.1,744.9" fill="none"/>
<polygon points="179.8,746.1 179.6,750.3 176.8,749.7 177.0,746.8" fill="#111"/>
<polygon points="190.1,742.5 190.5,746.0 188.5,746.5 187.9,744.3" fill="none"/>
<polygon points="186.6,747.2 185.4,747.1 186.1,745.7 186.2,744.2 187.5,744.2 188.1,745.6 187.6,747.0" fill="none"/>
<polygon points="187.7,747.7 186.5,748.5 185.3,749.2 185.0,747.6 184.5,745.8 185.9,744.5 187.7,745.3" fill="none"/>
<polygon points="185.6,749.2 185.2,747.3 185.6,745.9 186.6,746.5 187.3,748.3" fill="none"/>
<polygon points="175.7,751.1 176.6,749.2 178.4,750.3 177.6,752.4 176.7,753.1 174.8,753.2" fill="none"/>
<polygon points="182.2,747.5 184.8,747.5 184.8,750.9 181.5,751.7" fill="#111"/>
<polygon points="177.7,753.1 177.2,752.2 177.8,751.6 178.9,751.4 178.6,752.9" fill="none"/>
<polygon points="188.4,749.4 188.3,747.3 190.3,746.0 190.6,749.4" fill="none"/>
<polygon points="188.2,748.6 188.9,747.5 190.5,747.9 189.8,749.8 189.0,750.4 188.0,749.9" fill="none"/>
<polygon points="179.9,752.7 179.3,754.1 178.3,753.7 178.2,752.5 179.0,751.3" fill="none"/>
<polygon points="178.8,754.1 178.4,756.5 175.6,757.4 175.1,753.2 177.7,751.2" fill="none"/>
<polygon points="188.5,752.9 187.4,749.8 189.1,749.0 191.0,750.7" fill="none"/>
<polygon points="187.5,751.6 187.4,749.1 189.4,748.9 191.3,750.5 190.8,753.8 188.3,753.6" fill="none"/>
<polygon points="180.2,752.5 182.0,752.5 182.2,755.0 180.7,756.0 179.9,754.5" fill="#111"/>
<polygon points="190.2,750.7 191.1,750.0 192.3,751.0 191.8,753.0 190.3,753.3 189.8,751.8" fill="none"/>
<polygon points="183.9,753.1 184.6,751.1 186.4,750.8 186.9,752.8 186.4,754.0 185.9,756.0 184.2,755.4" fill="#111"/>
<polygon points="188.5,753.0 189.0,751.7 190.1,752.5 190.1,754.2 188.7,754.3" fill="none"/>
<polygon points="180.2,754.7 181.8,754.7 181.3,756.7 181.0,758.1 179.5,758.8 178.6,757.1 179.0,755.3" fill="none"/>
<polygon points="190.6,754.1 189.4,755.5 188.1,753.8 189.6,752.6" fill="none"/>
<polygon points="192.4,753.7 190.5,755.9 189.0,754.8 188.0,752.1 190.2,752.5" fill="none"/>
<polygon points="191.2,753.2 192.6,754.7 191.2,757.1 189.1,755.9 189.7,753.3" fill="none"/>
<polygon points="180.7,760.0 180.7,757.9 181.0,756.4 182.2,756.3 183.3,757.0 183.0,758.5 182.2,759.0" fill="none"/>
<polygon points="189.3,757.2 188.6,756.1 189.4,755.2 190.4,754.3 190.5,755.9 190.3,756.9" fill="none"/>
<polygon points="193.1,753.5 194.7,754.0 194.1,756.2 192.7,755.9 192.1,755.1 191.3,753.0" fill="none"/>
<polygon points="191.0,756.0 191.4,757.0 190.6,758.0 190.0,756.9 190.2,755.8" fill="none"/>
<polygon points="183.8,756.2 186.7,757.4 186.0,761.2 183.9,759.5" fill="none"/>
<polygon points="186.0,757.9 187.0,757.8 188.1,758.7 188.3,760.9 186.6,761.4 185.2,760.8 184.8,758.8" fill="none"/>
<polygon points="182.5,759.9 183.8,759.6 185.2,759.7 184.5,761.4 183.3,761.6" fill="none"/>
<polygon points="183.5,762.2 182.6,763.1 181.8,763.6 180.8,763.0 181.4,761.8 181.9,761.3 183.0,760.7" fill="none"/>
<polygon points="181.4,762.1 182.2,761.5 182.7,760.7 183.4,761.4 183.3,762.3 182.9,763.4 182.2,762.8" fill="none"/>
<polygon points="187.1,762.9 186.0,761.1 187.0,759.7 188.4,759.7 188.7,762.0" fill="none"/>
<polygon points="192.7,759.2 192.0,762.2 189.7,761.8 188.7,760.0 189.3,757.9 191.2,757.0" fill="none"/>
<polygon points="183.3,763.4 183.5,762.8 184.0,763.1 184.3,763.5 184.5,764.5 183.7,764.7 183.0,764.3" fill="none"/>
<polygon points="180.5,762.8 182.6,762.5 183.6,764.8 182.0,765.9 180.2,765.5" fill="none"/>
<polygon points="185.0,763.6 185.0,764.6 184.3,765.9 184.0,764.5 183.9,763.1" fill="#111"/>
<polygon points="191.9,762.4 191.0,762.3 189.8,761.0 190.8,759.1 192.9,758.9 193.2,761.5" fill="none"/>
<polygon points="181.7,764.2 183.5,763.5 184.5,764.7 185.5,765.7 185.0,767.6 183.3,768.7 181.6,767.0" fill="none"/>
<polygon points="190.4,763.6 190.0,763.3 189.8,762.9 189.7,761.8 190.4,762.1 191.4,762.1 190.8,763.1" fill="none"/>
<polygon points="194.2,762.2 194.5,760.7 195.5,761.1 196.0,762.2 195.1,762.9" fill="#111"/>
<polygon points="183.8,766.6 184.6,765.4 185.3,764.1 186.3,765.0 185.9,766.3 185.6,766.8 184.8,767.6" fill="none"/>
<polygon points="197.7,761.8 197.0,763.7 195.7,763.3 194.8,761.6 196.3,760.6" fill="none"/>
<polygon points="193.4,765.2 193.2,761.0 196.1,761.1 196.3,764.5" fill="none"/>
<polygon points="182.9,770.5 180.7,770.0 181.7,767.2 183.8,766.3 184.6,768.6 184.6,770.9" fill="none"/>
<polygon points="183.1,766.9 185.0,766.8 186.1,767.5 186.1,769.3 184.9,770.8 183.9,769.1" fill="none"/>
<polygon points="186.5,769.2 186.4,767.4 187.7,766.4 188.2,768.0 188.9,769.5 187.6,770.3" fill="none"/>
<polygon points="189.0,768.3 188.3,767.6 188.5,766.2 189.5,766.5 190.6,766.7 190.8,768.3 189.6,768.6" fill="none"/>
<polygon points="189.6,768.4 188.8,769.9 187.7,770.6 186.9,768.9 188.0,767.4" fill="none"/>
<polygon points="198.5,763.5 198.7,765.1 197.8,766.3 196.9,765.4 196.7,764.2 197.4,763.4" fill="none"/>
<polygon points="193.8,765.3 194.5,767.0 195.3,768.8 193.8,769.6 192.3,769.8 192.1,767.8 192.5,766.3" fill="#111"/>
<polygon points="193.7,767.3 194.0,766.9 194.8,766.3 195.2,767.6 194.4,768.3 193.7,768.2" fill="none"/>
<polygon points="187.8,769.6 189.2,770.5 188.6,772.2 187.9,772.7 187.2,772.8 186.8,771.9 187.1,771.0" fill="#111"/>
<polygon points="188.5,770.4 189.2,767.7 191.3,766.9 192.8,768.7 193.4,771.3 191.7,772.9 190.3,771.4" fill="none"/>
<polygon points="196.7,769.9 195.9,769.4 195.6,768.7 195.5,767.7 196.2,767.8 197.2,767.7 197.4,769.0" fill="#111"/>
<polygon points="191.5,771.9 190.6,770.9 191.5,769.7 192.2,771.0" fill="#111"/>
<polygon points="195.1,769.4 196.0,769.4 196.2,770.6 195.3,770.7 194.8,770.2" fill="none"/>
<polygon points="196.6,769.5 197.1,766.8 199.3,766.7 199.5,769.1 198.4,771.1" fill="none"/>
<polygon points="200.4,768.5 199.2,772.8 197.0,770.5 197.5,767.7" fill="#111"/>
<polygon points="185.4,776.1 186.2,772.5 188.6,774.8 187.5,778.0" fill="#111"/>
<polygon points="197.1,771.0 197.3,769.9 198.0,770.5 198.4,771.1 198.0,771.7 197.6,772.0 196.8,771.9" fill="none"/>
<polygon points="197.1,771.3 197.7,769.9 198.8,769.0 199.9,770.3 199.7,772.4 198.0,773.2" fill="none"/>
<polygon points="190.0,776.3 189.6,777.3 188.8,777.2 188.6,776.2 189.3,775.5" fill="none"/>
<polygon points="200.2,773.8 198.3,773.8 197.1,772.0 197.8,769.8 199.6,769.6 201.2,771.3" fill="none"/>
<polygon points="198.2,772.7 198.2,774.7 196.8,773.9 197.0,772.4" fill="none"/>
<polygon points="192.2,775.1 192.6,777.4 191.0,778.1 190.9,776.2" fill="#111"/>
<polygon points="191.6,776.4 192.8,775.9 194.5,776.8 193.2,778.8 191.2,778.8" fill="#111"/>
<polygon points="191.6,779.0 190.8,780.1 190.1,778.9 189.3,778.0 190.2,777.2 191.1,776.7 192.3,777.5" fill="#111"/>
<polygon points="191.4,780.3 191.0,776.4 193.2,777.2 193.7,779.2" fill="none"/>
<polygon points="188.6,777.5 190.6,777.1 191.7,777.9 193.3,779.2 192.0,781.1 190.6,780.5 188.6,780.4" fill="#111"/>
<polygon points="199.6,776.3 198.7,776.3 198.2,774.8 199.3,774.8 200.4,775.2" fill="none"/>
<polygon points="196.9,775.2 198.4,774.3 199.9,772.6 201.2,774.7 200.0,776.4 199.2,777.2 197.7,777.2" fill="none"/>
<polygon points="199.9,775.8 199.9,776.7 199.5,777.3 198.8,777.8 198.4,776.9 198.6,776.0 199.2,775.0" fill="#111"/>
<polygon points="192.7,781.0 193.3,777.1 195.6,778.1 195.3,780.5" fill="none"/>
<polygon points="198.6,775.3 198.8,778.3 198.8,780.7 196.5,782.0 194.8,779.0 196.6,776.9" fill="none"/>
<polygon points="196.0,780.6 194.9,781.5 194.3,780.1 194.6,779.0 196.2,778.3" fill="none"/>
<polygon points="193.3,783.5 191.3,784.6 189.8,782.5 191.8,781.4" fill="none"/>
<polygon points="192.4,783.7 191.4,784.4 190.8,783.2 191.0,782.0 192.0,781.2 192.8,782.5" fill="#111"/>
<polygon points="193.6,785.3 191.8,787.4 190.2,785.1 190.1,782.6 191.8,780.5 194.1,782.2" fill="none"/>
<polygon points="201.5,776.9 202.3,779.1 201.4,781.2 199.9,780.4 198.5,778.9 199.8,777.1" fill="none"/>
<polygon points="197.8,782.5 197.0,783.4 195.8,783.6 194.8,781.7 196.3,780.7 197.9,780.4" fill="#111"/>
<polygon points="191.5,784.7 191.5,782.8 192.9,783.5 193.9,784.5 192.9,785.5 192.1,785.4" fill="none"/>
<polygon points="199.6,781.0 200.3,781.6 199.9,782.5 199.2,783.3 198.5,782.5 198.2,781.4 199.0,780.9" fill="none"/>
<polygon points="203.4,778.5 204.2,779.6 203.7,781.0 202.5,781.1 202.0,779.8 202.3,778.4" fill="none"/>
<polygon points="195.3,786.3 194.1,787.5 193.3,786.2 194.2,784.6" fill="none"/>
<polygon points="198.7,783.9 198.8,780.7 201.5,780.5 201.0,783.7" fill="none"/>
<polygon points="200.4,784.3 199.7,786.2 198.3,785.4 197.8,784.1 198.3,782.7 199.7,782.5" fill="none"/>
<polygon points="200.3,784.4 199.6,782.9 200.1,781.2 201.3,781.9 201.9,782.7 201.7,784.3" fill="#111"/>
<polygon points="204.7,782.9 204.1,781.6 203.8,779.9 205.0,779.2 206.5,779.2 207.0,781.2 206.0,782.5" fill="none"/>
<polygon points="207.1,780.2 206.7,782.1 205.4,782.3 204.3,782.3 203.8,780.7 204.4,779.1 205.9,778.8" fill="none"/>
<polygon points="195.4,786.4 196.4,787.8 196.7,789.5 195.7,790.8 194.7,789.8 194.0,789.0 194.3,787.7" fill="#111"/>
<polygon points="202.2,782.3 203.5,782.4 203.9,784.0 203.0,784.9 202.3,784.5 201.9,783.7" fill="none"/>
<polygon points="201.9,786.5 200.9,786.9 199.9,786.4 200.4,784.8 201.7,784.9" fill="none"/>
<polygon points="207.1,781.9 206.8,782.8 206.2,782.6 206.4,781.8" fill="#111"/>
<polygon points="197.2,788.0 198.6,787.5 199.5,788.6 199.3,790.9 197.8,789.7" fill="#111"/>
<polygon points="203.8,782.7 205.3,783.1 205.9,783.6 206.9,784.9 205.7,785.7 204.4,786.2 204.0,784.6" fill="#111"/>
<polygon points="204.1,786.6 204.0,785.2 204.9,785.2 205.6,786.6" fill="none"/>
<polygon points="196.8,792.0 195.1,791.7 195.8,789.1 197.5,789.8 198.5,791.6" fill="none"/>
<polygon points="205.6,786.6 206.0,788.4 204.5,789.1 203.3,788.0 203.3,786.2 204.2,785.1 205.6,784.8" fill="#111"/>
<polygon points="198.0,791.6 197.3,790.4 198.4,790.1 199.2,790.7 198.7,791.6" fill="none"/>
<polygon points="205.4,787.8 204.7,790.3 203.0,788.6 204.0,786.7" fill="none"/>
<polygon points="204.1,786.6 205.2,786.8 206.3,787.8 205.2,788.8 204.2,789.0 203.0,787.9" fill="#111"/>
<polygon points="205.0,791.1 202.7,791.6 202.6,788.6 204.3,786.0 205.4,788.9" fill="none"/>
<polygon points="202.8,788.1 204.1,788.0 204.5,789.4 204.2,790.6 203.5,791.7 202.6,790.7 202.5,789.5" fill="none"/>
<polygon points="206.8,787.3 208.7,785.1 209.6,788.3 207.6,790.2" fill="none"/>
<polygon points="205.5,787.2 207.0,788.7 206.4,790.2 204.5,789.9" fill="#111"/>
<polygon points="200.8,796.9 199.3,795.4 198.5,793.9 199.2,791.4 201.0,792.6 201.5,794.6" fill="none"/>
<polygon points="205.9,790.4 205.8,792.3 203.9,793.2 203.1,790.5 204.7,788.2" fill="#111"/>
<polygon points="202.2,795.4 202.2,793.9 202.6,793.0 203.5,791.5 204.6,792.9 204.6,794.7 203.3,794.9" fill="#111"/>
<polygon points="208.8,790.2 207.7,790.1 207.0,789.0 207.3,787.4 208.6,787.7 208.9,788.8" fill="none"/>
<polygon points="206.7,792.2 207.4,794.7 205.2,795.8 203.0,794.2 203.4,790.8 205.7,790.1" fill="none"/>
<polygon points="201.6,795.5 203.5,797.7 200.8,799.5 200.3,796.7" fill="none"/>
<polygon points="207.1,793.8 204.9,792.7 206.6,790.5 209.0,790.3 209.1,793.7" fill="none"/>
<polygon points="201.5,796.2 202.7,795.1 203.8,794.1 205.2,795.3 205.1,797.5 203.6,798.3 202.6,797.4" fill="none"/>
<polygon points="202.1,796.1 204.0,794.8 205.5,796.3 204.8,798.1 203.6,797.9" fill="none"/>
<polygon points="208.5,794.3 207.5,794.4 206.8,793.4 207.0,792.0 208.0,792.5 208.9,792.9" fill="#111"/>
<polygon points="207.3,794.9 207.9,797.1 206.1,797.7 204.3,796.2 205.7,793.9" fill="none"/>
<polygon points="211.4,790.1 211.8,791.5 212.0,793.5 210.5,792.9 209.3,792.8 209.7,791.3 209.9,789.0" fill="none"/>
<polygon points="212.4,793.1 210.8,792.7 211.3,790.9 212.8,791.1" fill="#111"/>
<polygon points="210.7,796.6 209.0,798.8 207.1,797.1 207.3,794.9 207.5,792.9 209.2,792.7 210.0,794.4" fill="none"/>
<polygon points="211.4,789.1 213.9,788.9 214.8,791.2 214.4,793.1 213.0,793.3 212.2,792.0" fill="none"/>
<polygon points="207.1,798.6 206.8,800.7 205.2,800.3 205.3,798.6 206.1,797.3" fill="none"/>
<polygon points="208.2,799.0 207.4,797.8 208.0,796.5 209.3,795.8 209.6,797.6 209.1,798.5" fill="none"/>
<polygon points="210.7,795.9 210.3,798.5 209.2,800.0 207.9,799.2 207.1,798.1 207.1,796.1 208.6,796.3" fill="none"/>
<polygon points="213.9,795.0 213.4,796.0 212.6,795.3 211.7,794.2 212.9,793.6 213.8,792.3 214.9,793.7" fill="none"/>
<polygon points="210.0,796.6 211.1,795.5 212.0,796.8 210.9,798.3" fill="none"/>
<polygon points="208.7,801.5 208.0,802.7 207.0,802.6 206.6,801.4 207.1,800.4 208.0,800.4" fill="none"/>
<polygon points="212.9,797.8 211.5,800.3 209.3,800.1 209.8,797.7 211.0,796.0" fill="none"/>
<polygon points="211.7,797.2 212.7,795.7 213.9,795.4 215.4,796.6 213.9,797.8 213.0,798.2" fill="none"/>
<polygon points="211.0,797.7 212.0,797.3 212.6,797.7 212.9,798.6 212.2,799.1 211.6,798.7" fill="none"/>
<polygon points="215.7,795.5 215.9,797.4 214.7,799.1 213.5,797.2 213.9,794.9" fill="none"/>
<polygon points="214.5,794.4 216.2,796.8 214.8,799.6 212.9,797.2" fill="none"/>
<polygon points="214.7,795.1 217.1,795.6 217.0,798.2 214.9,798.4" fill="none"/>
<polygon points="209.2,803.1 210.1,803.1 209.6,804.2 209.3,804.9 208.6,804.9 208.5,804.0 208.4,802.9" fill="#111"/>
<polygon points="216.2,798.2 217.6,800.0 215.8,800.5 214.8,800.2 213.3,799.3 214.3,797.7 215.5,797.1" fill="none"/>
<polygon points="211.7,801.9 212.5,804.1 210.2,805.6 209.0,801.8" fill="none"/>
<polygon points="217.3,798.9 216.8,796.2 218.7,796.6 219.8,799.2" fill="none"/>
<polygon points="216.5,798.2 216.5,800.9 215.0,801.2 214.6,799.4" fill="none"/>
<polygon points="218.2,797.4 218.9,799.6 217.5,800.9 216.2,800.0 215.0,798.3 216.5,796.7" fill="none"/>
<polygon points="214.6,801.5 215.2,800.9 216.1,800.6 215.8,801.8 215.2,802.5" fill="none"/>
<polygon points="214.5,801.3 216.2,802.3 217.3,805.3 214.6,805.8 213.5,803.6" fill="none"/>
<polygon points="217.2,802.1 215.9,801.0 216.8,799.7 217.8,800.4" fill="none"/>
<polygon points="217.3,802.0 216.6,801.4 216.5,799.7 217.7,800.3 218.3,800.6 219.0,801.7 218.0,802.4" fill="none"/>
<polygon points="217.1,803.0 216.9,804.4 215.5,804.1 215.3,802.0 216.8,801.3" fill="none"/>
<polygon points="216.6,803.6 217.9,804.3 217.0,805.5 216.2,805.7 214.7,805.3 215.7,803.8" fill="none"/>
<polygon points="214.4,808.2 213.8,807.1 214.0,805.6 215.1,805.1 215.9,806.1 216.4,807.4 215.5,808.5" fill="none"/>
<polygon points="219.5,801.4 219.0,800.2 219.7,799.0 220.7,799.5 220.9,800.6 221.1,801.8 220.1,801.7" fill="none"/>
<polygon points="218.9,804.2 217.6,806.9 215.7,806.4 216.0,803.0" fill="none"/>
<polygon points="219.2,800.1 221.2,800.9 221.1,803.2 220.4,804.5 219.0,806.2 218.0,804.1 217.7,801.8" fill="none"/>
<polygon points="220.0,802.5 219.9,801.2 221.2,801.3 220.9,802.9" fill="#111"/>
<polygon points="220.3,808.8 216.8,810.3 216.5,806.1 218.7,805.6" fill="#111"/>
<polygon points="220.5,804.5 220.6,806.5 219.2,808.4 217.4,806.7 217.8,804.1 219.3,802.5" fill="none"/>
<polygon points="224.2,802.3 222.2,803.2 221.4,800.1 223.6,800.1" fill="none"/>
<polygon points="216.9,808.4 217.9,808.4 218.6,808.3 218.8,809.4 218.0,809.8 217.6,809.3" fill="#111"/>
<polygon points="222.2,804.3 222.0,801.5 224.5,800.6 225.0,804.6" fill="#111"/>
<polygon points="218.0,808.9 219.7,809.6 219.2,812.3 217.0,812.5 216.8,810.0" fill="none"/>
<polygon points="217.9,812.2 217.8,810.6 218.5,809.6 219.7,809.5 219.7,811.1 219.4,813.0" fill="none"/>
<polygon points="223.9,802.0 224.6,802.6 224.9,803.6 224.3,804.4 223.2,805.1 222.3,803.7 223.0,802.3" fill="none"/>
<polygon points="224.2,804.6 224.4,806.4 223.2,807.0 222.5,806.0 222.8,804.5" fill="none"/>
<polygon points="221.0,809.6 221.0,810.7 220.4,811.9 219.8,810.7 219.3,809.7 220.3,809.5" fill="none"/>
<polygon points="222.3,812.1 221.0,813.2 219.0,813.1 218.6,810.2 220.5,808.9 221.7,810.3" fill="none"/>
<polygon points="224.0,806.5 223.5,804.8 224.7,804.0 226.4,804.7 225.4,806.7" fill="none"/>
<polygon points="223.1,810.3 223.1,811.6 222.0,811.7 221.5,810.9 220.9,809.0 222.5,809.3" fill="none"/>
<polygon points="221.0,807.3 223.6,807.1 226.0,808.5 224.1,811.1 221.5,811.2" fill="none"/>
<polygon points="225.7,802.8 227.4,804.3 229.2,806.0 227.2,807.2 225.7,807.3 224.8,805.4" fill="none"/>
<polygon points="224.2,811.6 223.4,813.1 222.1,812.2 221.5,810.5 222.2,808.6 223.5,809.8 224.2,810.3" fill="none"/>
<polygon points="223.6,810.2 224.5,809.5 224.8,810.6 224.8,811.9 224.0,811.1" fill="#111"/>
<polygon points="224.3,813.1 224.1,815.2 222.2,815.9 220.9,814.2 220.2,811.4 222.3,810.4 224.5,810.4" fill="none"/>
<polygon points="228.6,803.7 230.1,805.0 229.8,807.3 228.1,807.2 227.6,805.4" fill="none"/>
<polygon points="226.7,810.3 226.0,809.1 225.7,807.6 226.9,807.2 227.9,808.0 227.9,809.7" fill="none"/>
<polygon points="225.5,813.5 224.4,812.8 225.1,811.6 225.9,811.1 226.7,811.5 226.6,812.6 226.6,814.2" fill="#111"/>
<polygon points="225.7,808.1 228.3,808.2 229.0,811.6 227.3,813.8 225.7,812.3 224.4,810.6" fill="#111"/>
<polygon points="226.4,811.0 227.7,810.9 228.1,812.6 227.4,814.1 226.1,813.8 225.4,812.3" fill="none"/>
<polygon points="228.7,811.0 227.3,810.5 227.2,808.7 227.6,807.0 229.0,807.3 230.0,808.3 229.9,810.0" fill="none"/>
<polygon points="231.2,807.9 230.3,810.2 228.5,811.5 227.4,808.7 229.2,807.3" fill="none"/>
<polygon points="230.3,810.2 229.3,813.9 226.5,812.7 227.2,808.4" fill="none"/>
<polygon points="232.1,811.0 229.9,810.9 228.9,808.7 229.0,806.0 230.9,806.0 232.2,806.7 233.3,808.7" fill="none"/>
<polygon points="231.1,811.4 230.0,813.1 228.6,811.7 228.3,809.9 229.4,809.1 230.5,808.5 232.2,809.5" fill="none"/>
<polygon points="230.6,809.9 232.1,810.5 231.2,812.4 229.7,812.5 229.6,810.6" fill="none"/>
<polygon points="230.4,809.7 231.4,808.9 232.3,810.6 230.7,811.3" fill="none"/>
<polygon points="229.7,815.1 230.5,815.9 230.0,817.5 228.9,816.8 228.3,815.9 228.7,814.4" fill="none"/>
<polygon points="231.4,811.2 230.8,810.6 231.1,809.5 232.0,809.8 232.5,810.4 232.2,811.2 231.8,811.5" fill="none"/>
<polygon points="234.7,809.4 233.9,811.5 232.9,809.6 232.3,808.1 233.5,807.0 234.8,807.7" fill="none"/>
<polygon points="229.9,812.4 232.3,811.8 233.3,815.3 230.5,815.5" fill="none"/>
<polygon points="232.2,818.0 231.0,817.3 230.2,817.0 230.2,815.9 230.8,814.7 232.2,814.5 232.2,816.3" fill="none"/>
<polygon points="233.5,812.7 231.6,812.1 233.2,810.6 234.2,811.5" fill="none"/>
<polygon points="233.2,812.7 233.8,813.4 234.1,814.5 233.1,814.6 232.5,813.6" fill="none"/>
<polygon points="231.7,817.7 229.6,815.6 232.0,814.3 234.0,814.9 233.7,817.8" fill="#111"/>
<polygon points="233.5,811.7 234.7,810.5 235.8,811.6 236.3,813.0 235.4,815.2 233.4,814.1" fill="none"/>
<polygon points="235.9,812.6 234.2,811.7 235.3,809.8 236.7,810.8" fill="#111"/>
<polygon points="234.5,817.1 234.1,818.2 233.7,819.1 232.8,819.2 232.4,818.0 232.6,816.7 233.6,816.6" fill="none"/>
<polygon points="234.4,815.2 235.1,816.7 234.5,818.6 233.2,817.4 232.9,815.5" fill="#111"/>
<polygon points="237.8,815.8 234.9,815.4 235.4,812.1 237.1,812.9" fill="none"/>
<polygon points="234.6,815.2 235.7,815.8 235.8,816.9 235.0,818.1 234.5,816.6" fill="none"/>
<polygon points="238.4,812.6 237.8,812.2 238.1,811.2 239.3,811.5" fill="none"/>
<polygon points="238.0,813.6 237.7,815.2 236.2,814.9 236.5,812.3" fill="none"/>
<polygon points="236.1,819.4 234.8,817.7 236.2,816.2 238.5,816.2 238.0,819.4" fill="none"/>
<polygon points="235.2,818.5 236.4,818.1 236.5,819.7 235.9,820.9 234.5,820.1" fill="none"/>
<polygon points="238.8,818.2 237.6,818.7 236.7,817.5 237.3,816.3 238.1,816.2 238.6,816.8" fill="none"/>
<polygon points="239.2,817.4 237.1,816.1 238.0,812.8 241.0,814.4" fill="#111"/>
<polygon points="238.4,814.7 240.0,813.2 240.7,815.4 240.1,816.7 238.7,816.7" fill="#111"/>
<polygon points="239.7,814.3 239.5,813.0 240.5,813.1 241.5,813.5 240.9,814.7 240.2,814.8" fill="none"/>
<polygon points="240.9,811.5 242.3,811.5 243.5,812.5 242.4,813.7 240.7,813.9" fill="#111"/>
<polygon points="239.8,815.1 240.8,816.1 241.3,817.6 240.1,817.9 239.5,817.5 238.7,816.3" fill="none"/>
<polygon points="242.5,814.2 242.7,815.8 241.2,815.8 241.5,814.2" fill="none"/>
<polygon points="241.9,814.6 241.3,813.2 242.3,812.2 243.2,812.6 243.7,813.9 243.2,815.9" fill="none"/>
<polygon points="239.5,820.7 240.4,819.6 241.3,820.5 240.5,821.3" fill="none"/>
<polygon points="242.3,814.5 243.1,813.0 244.4,813.1 243.7,814.7" fill="none"/>
<polygon points="244.3,814.1 244.8,815.4 243.7,815.7 243.3,814.4" fill="none"/>
<polygon points="244.6,813.2 245.6,815.2 243.9,815.2 242.7,813.7" fill="none"/>
<polygon points="244.6,817.8 243.8,817.6 243.1,816.6 244.1,815.6 244.7,816.7" fill="none"/>
<polygon points="245.2,819.4 243.1,821.5 241.4,819.5 243.0,816.7" fill="none"/>
<polygon points="244.4,819.4 245.0,821.0 243.6,822.2 242.0,820.8 242.6,817.8" fill="none"/>
<polygon points="244.7,822.5 243.2,823.2 241.9,821.9 242.0,819.9 243.0,818.5 244.6,818.9 245.0,820.7" fill="none"/>
<polygon points="244.3,818.8 246.1,819.9 246.1,822.5 244.4,822.7 242.5,822.8 242.4,819.8" fill="none"/>
<polygon points="243.0,820.8 244.0,820.1 245.1,819.9 245.7,821.3 244.7,822.1 244.1,823.0 243.5,822.1" fill="none"/>
<polygon points="244.8,821.7 244.2,820.6 244.9,819.3 246.0,820.0 246.7,820.9 246.6,822.5 245.3,823.1" fill="#111"/>
<polygon points="247.0,818.2 247.0,819.5 246.0,819.4 246.1,818.4" fill="none"/>
<polygon points="248.0,815.1 248.8,815.0 249.6,815.3 250.2,816.6 249.2,817.5 248.1,817.6 247.2,816.3" fill="#111"/>
<polygon points="246.2,821.3 246.2,820.4 246.8,820.1 247.4,820.7 247.1,822.0" fill="none"/>
<polygon points="247.8,822.9 247.8,824.8 246.5,824.3 245.3,823.8 246.1,822.6 246.9,821.8" fill="#111"/>
<polygon points="247.2,816.0 248.7,814.2 250.7,814.8 252.2,817.1 250.9,819.6 248.9,820.3 247.3,818.6" fill="#111"/>
<polygon points="249.3,822.7 248.5,823.3 247.3,823.5 247.3,822.0 247.5,820.8 248.6,820.5 249.1,821.5" fill="none"/>
<polygon points="246.3,821.6 247.8,820.4 249.0,818.1 250.8,819.8 249.7,822.1 249.0,823.6 247.6,823.1" fill="none"/>
<polygon points="252.5,818.4 251.7,819.2 250.3,820.5 249.2,818.6 250.4,817.2 251.2,815.9 252.5,816.7" fill="#111"/>
<polygon points="249.5,818.5 251.0,817.0 251.4,819.4 251.6,821.4 250.0,821.7 249.3,820.1" fill="none"/>
<polygon points="250.0,820.5 251.0,820.9 251.8,822.2 251.0,824.1 249.3,823.7 249.2,821.7" fill="#111"/>
<polygon points="250.1,823.4 248.6,820.9 250.1,817.8 252.5,819.6 252.9,823.2" fill="none"/>
<polygon points="251.3,823.2 251.0,820.7 251.3,819.0 252.7,818.5 253.2,820.2 253.0,821.8" fill="none"/>
<polygon points="254.2,822.9 251.7,823.5 250.2,821.5 250.7,819.0 252.4,818.8 254.7,819.4" fill="#111"/>
<polygon points="253.3,818.9 254.3,819.4 255.2,821.0 253.9,822.1 252.8,821.7 251.7,820.8 252.4,819.4" fill="none"/>
<polygon points="252.5,821.5 252.6,818.6 253.5,817.2 254.7,817.7 255.9,819.2 254.9,821.6" fill="none"/>
<polygon points="254.8,821.0 254.2,823.2 251.7,822.9 252.8,819.1" fill="#111"/>
<polygon points="252.2,823.0 252.3,820.8 253.5,818.4 255.5,819.9 254.9,822.3 254.0,824.5" fill="none"/>
<polygon points="252.7,825.9 252.0,824.8 253.0,823.7 254.4,824.4 253.9,826.4" fill="none"/>
<polygon points="254.9,819.9 256.4,821.3 255.3,823.0 254.3,823.5 252.7,822.8 253.7,821.1" fill="#111"/>
<polygon points="256.1,821.4 256.7,822.0 256.2,822.9 255.5,822.9 255.2,822.1 255.4,821.5 255.7,820.8" fill="none"/>
<polygon points="255.5,822.9 254.7,821.7 255.4,820.1 256.3,821.4 256.2,822.3" fill="none"/>
<polygon points="259.7,821.8 257.8,823.5 256.1,822.9 256.5,820.8 258.1,819.4" fill="none"/>
<polygon points="255.3,825.4 254.8,826.0 254.3,825.4 254.2,824.7 254.5,823.9 255.1,824.2 255.8,824.7" fill="#111"/>
<polygon points="255.8,827.2 253.3,826.1 255.3,823.7 257.1,825.2" fill="none"/>
<polygon points="256.9,823.8 257.0,822.2 258.1,822.7 258.2,824.3" fill="none"/>
<polygon points="255.7,824.2 257.5,823.3 258.7,825.8 257.6,828.0 255.2,829.2 253.8,826.1" fill="none"/>
<polygon points="257.5,824.5 257.8,822.4 260.0,822.2 259.4,825.2" fill="none"/>
<polygon points="259.3,822.8 261.1,823.9 260.1,826.8 258.2,825.6 257.2,823.1" fill="#111"/>
<polygon points="258.6,826.8 257.2,827.3 255.7,825.2 258.3,824.0" fill="none"/>
</g>
<g fill="none" stroke="#000" stroke-width="2.0" stroke-linejoin="round" stroke-linecap="round">
<polyline points="187.4,131.5 187.6,133.2 188.4,134.8 188.4,136.5 188.5,138.2 188.9,139.9 189.4,141.5 189.9,143.1 191.2,144.1 192.5,145.1 194.1,145.8 195.0,147.3 196.5,148.1 198.1,148.6 199.8,148.6 201.5,149.1 203.2,149.2 204.9,149.4 206.5,149.8 207.6,148.8 209.1,148.2 210.3,147.3 211.5,146.5 212.5,145.3 214.1,144.9 215.2,143.9 216.5,143.1 218.0,142.2 219.4,141.3 221.0,140.6 222.0,139.1 223.6,138.4 225.2,137.8 226.4,136.5 227.9,135.7 229.0,134.4 230.5,133.7 232.0,132.9 233.1,131.5 232.0,129.8 230.0,129.7 228.1,129.1 226.1,129.2 225.1,127.9 225.0,126.1 223.9,124.8 223.2,123.3 222.8,121.7 223.1,120.1 222.7,118.5 222.8,116.9 222.5,115.3 222.0,113.8 221.1,112.4 219.8,111.4 219.1,109.9 217.4,109.3 216.6,107.8 217.9,108.9 219.4,109.6 221.0,110.1 222.2,111.4 223.8,112.0 225.6,112.0 227.4,112.0 229.1,112.3 230.9,112.0 232.4,112.3 233.8,113.0 235.1,113.9 236.7,114.0 238.0,115.0 239.2,113.4 240.6,112.0 241.6,110.2 243.3,109.8 244.9,109.3 246.6,109.4 248.3,109.1 249.9,108.4 251.4,108.0 252.7,107.2 254.2,106.9 255.5,106.2 256.7,105.1 258.2,104.8 259.6,103.8 261.0,102.7 262.4,101.8 264.1,101.3 264.6,99.2 265.3,97.1 266.8,97.3 268.3,97.1 269.8,96.3 271.3,96.5 271.9,98.1 272.0,99.8 271.9,101.5 272.5,103.1 273.4,104.3 274.1,105.7 275.6,106.4 275.9,108.1 277.2,109.0 277.5,110.6 277.1,112.2 277.2,113.8 276.1,115.1 275.5,116.7 275.2,118.3 274.2,119.7 273.8,121.3 273.8,123.0 274.0,124.7 273.5,126.4 273.1,128.0 273.8,129.6 274.1,131.4 275.0,132.9 275.3,134.7 276.0,136.3 277.1,137.6 278.6,138.5 279.8,139.7 280.7,141.2 282.0,142.3 283.8,143.1 285.5,144.0 286.9,142.7 288.5,141.8 290.3,141.1 292.1,140.8 293.5,139.8 295.0,138.9 296.7,138.3 298.3,137.4 300.2,137.5 301.7,136.6 303.3,135.8 305.0,135.8 306.6,135.2 308.3,135.0 310.0,134.9 311.7,134.8 313.3,134.6 315.0,135.0 316.6,134.8 318.3,134.9 319.1,133.3 319.3,131.5 319.9,129.9 321.6,129.9 323.2,129.9 324.9,130.3 326.6,129.9 328.2,129.5 330.0,129.5 331.6,129.1 333.0,130.2 334.1,131.6 334.0,133.7 334.1,135.8 335.5,135.0 337.1,134.9 338.4,133.7 339.9,133.3 341.6,133.4 343.2,133.0 344.8,132.6 346.5,132.4 348.2,132.8 349.9,132.3 351.5,132.6 353.2,132.4 354.9,132.2 356.5,131.8 358.2,131.6 359.0,129.7 360.3,128.2 361.5,126.6 362.1,124.9 363.1,123.3 364.3,121.8 364.8,120.0 365.3,118.6 366.3,117.4 367.0,116.1 367.3,114.5 368.2,113.3 369.2,111.6 370.1,109.8 371.5,108.3 373.2,106.7 374.0,108.5 375.6,109.8 376.5,111.6 377.0,113.3 377.4,114.9 377.4,116.7 378.1,118.3 378.1,120.0 378.7,121.6 379.1,123.3 379.8,124.9 379.8,126.6 380.0,128.4 381.3,129.8 381.5,131.6 383.2,132.6 384.9,133.7 386.5,134.9 387.4,136.7 388.6,138.3 389.8,139.9 390.2,141.5 390.0,143.3 390.6,144.9 389.7,146.4 389.9,148.4 389.0,149.9 388.4,151.5 388.1,153.2 389.8,153.6 391.5,154.3 393.2,154.9 394.8,155.7 396.4,156.5 397.8,157.0 399.0,158.0 400.4,158.6 401.6,159.6 403.1,159.9 404.5,161.4 406.2,162.5 408.1,163.2 409.8,163.9 411.3,165.1 413.1,165.7 414.7,166.0 416.4,166.3 418.0,166.7 419.7,166.5 421.5,166.5 423.1,167.3 424.7,167.7 426.4,168.2 428.0,168.9 429.8,169.1 431.2,170.3 433.0,170.5 434.3,172.3 435.2,174.3 436.8,174.8 438.4,175.1 439.8,175.9 441.3,176.6 442.9,176.3 444.3,175.3 445.9,174.9 447.6,174.9 449.1,174.3 450.6,175.9 452.2,177.4 452.8,179.0 453.9,180.3 454.3,182.1 455.3,183.5 455.6,185.1 456.1,186.7 456.8,188.2 458.2,187.3 459.9,187.1 461.4,186.6 462.9,186.0 464.5,186.6 466.1,186.5 467.6,185.9 469.0,186.7 470.8,186.4 472.3,187.2 473.8,187.8 475.3,188.2 476.8,188.8 478.5,189.1 479.9,190.3 481.6,190.5 483.1,191.3 484.6,192.1 486.1,192.8 487.7,192.7 489.2,193.3 490.8,193.1 492.3,193.6 493.8,193.0 495.3,193.1 496.8,192.7 498.4,192.8 499.8,192.1 501.4,192.1 503.2,192.4 505.0,192.5 506.8,193.0 508.5,193.6 509.9,194.4 511.3,195.3 512.8,196.0 514.0,197.1 515.8,197.4 517.0,198.5 518.0,199.7 519.6,200.2 520.3,201.7 521.8,202.3 523.1,203.2 524.2,204.2 525.3,205.4 526.2,206.7 527.3,207.9 528.8,208.7 529.9,209.9 531.4,210.7 532.4,212.0 533.1,213.5 534.3,214.6 535.6,215.6 536.9,216.5 538.5,216.8 539.8,217.8 541.2,218.4 542.8,218.5 544.2,219.0 545.5,219.9 547.2,219.9 548.9,220.6 550.6,220.4 552.4,220.8 554.1,220.6 556.1,220.7 557.9,221.5 559.8,222.1 561.5,223.6 562.6,225.6 563.4,227.3 564.0,229.0 563.9,231.0 564.8,232.7 565.3,234.5 565.5,236.3 565.7,238.1 566.2,239.9 566.0,241.6 566.0,243.2 566.5,244.9 566.7,246.5 566.4,248.2 566.9,249.8 566.8,251.6 566.7,253.4 566.2,255.2 566.2,257.0 565.9,258.9 565.4,260.8 564.8,262.6 564.3,264.0 563.7,265.5 563.3,266.9 562.6,268.3 562.0,269.8 561.2,271.2 560.9,272.8 559.8,274.0 558.5,275.2 558.0,277.1 556.6,278.3 555.5,279.7 554.3,280.8 553.3,282.0 552.3,283.3 551.2,284.5 549.8,285.4 548.4,286.5 547.0,287.5 545.5,288.3 544.1,289.4 542.8,290.6 541.1,291.3 539.8,292.6 538.1,293.1 536.3,293.6 535.8,295.2 534.6,296.3 533.3,297.3 532.7,298.9 532.4,300.5 531.2,301.7 530.2,303.0 529.9,304.6 529.1,306.0 528.0,307.4 527.1,308.9 526.1,310.4 524.8,311.7 523.8,313.2 522.4,314.0 521.2,315.1 519.8,315.8 518.4,316.7 517.2,317.9 515.9,318.9 514.9,320.3 515.3,322.1 515.3,323.9 515.1,325.6 515.1,327.4 514.9,329.2 514.4,330.7 514.5,332.3 513.8,333.7 514.0,335.3 513.8,336.9 513.2,338.3 513.1,339.9 513.6,341.4 512.9,343.0 513.2,344.5 513.8,346.0 513.9,347.5 513.6,349.1 514.0,350.6 513.5,352.1 513.4,353.6 513.6,355.3 512.7,356.7 513.1,358.3 512.3,359.8 512.2,361.3 511.6,362.7 510.8,364.0 510.5,365.5 510.4,367.1 509.5,368.4 508.8,370.1 508.7,372.0 508.6,373.8 507.1,374.9 505.9,376.5 504.2,377.3 503.1,379.0 502.4,380.9 502.2,382.4 501.6,383.8 501.1,385.3 500.8,386.8 501.3,388.4 500.6,389.8 499.9,391.5 499.8,393.4 499.0,395.1 498.8,397.0 498.2,398.5 497.4,399.9 496.8,401.3 496.3,402.8 495.3,404.1 494.3,405.3 493.0,406.1 492.3,407.6 491.2,408.6 489.9,409.4 488.5,410.4 487.4,411.7 486.3,413.0 484.6,414.8 484.3,416.6 484.5,418.4 484.3,420.2 483.7,421.9 483.4,423.7 482.8,425.5 481.3,426.4 480.4,427.8 479.2,429.0 477.3,429.2 475.8,430.4 473.9,430.8 472.2,432.2 470.5,432.3 468.9,432.2 467.2,431.9 465.5,432.5 463.9,431.9 462.2,432.2 460.7,432.5 459.3,433.1 457.7,433.0 456.2,433.3 454.7,433.5 453.0,433.5 451.3,433.5 449.7,434.1 448.0,434.1 446.4,434.6 444.7,434.7 443.0,435.3 441.6,436.7 439.8,437.2 438.0,437.8 436.6,439.1 434.8,439.7 433.3,440.2 432.0,441.0 430.6,441.5 429.2,442.2 427.7,442.5 426.2,442.9 424.8,443.5 423.3,444.2 421.8,445.1 420.3,445.7 418.7,446.2 417.3,447.2 416.1,448.1 414.8,448.8 413.6,449.7 412.1,450.2 411.1,451.5 409.8,452.2 408.4,453.3 407.4,454.9 406.1,456.2 404.7,457.3 403.6,458.9 402.9,460.6 402.1,462.3 401.4,463.7 400.8,465.0 399.6,466.1 399.3,467.8 399.7,469.6 399.4,471.3 399.7,473.1 399.6,474.8 399.7,476.3 400.0,477.8 399.9,479.4 400.2,480.9 400.8,482.3 400.6,483.8 400.3,485.3 400.3,486.8 399.6,488.3 399.6,489.8 399.1,491.2 398.1,492.4 396.8,493.4 396.6,495.0 395.3,496.0 394.6,497.3 393.3,498.5 392.1,499.7 391.0,501.1 389.6,502.2 388.1,503.3 386.1,503.5 384.6,504.7 383.7,506.0 383.0,507.4 382.8,509.1 381.6,510.3 381.3,512.0 380.6,513.4 379.7,514.7 379.0,516.1 378.2,517.5 377.9,519.1 376.6,520.3 376.1,521.8 375.1,523.1 374.7,524.7 373.3,525.5 372.4,526.8 371.5,528.1 370.0,528.9 369.0,530.1 368.2,531.5 366.7,532.3 365.7,533.4 364.7,534.7 363.6,536.1 362.4,537.4 361.3,538.8 359.7,539.7 358.8,541.3 358.2,543.1 357.2,544.6 356.5,546.0 355.7,547.2 355.0,548.5 353.9,549.6 353.2,551.0 352.2,552.1 351.1,553.5 349.9,554.8 348.5,555.9 348.7,554.3 349.2,552.7 348.7,551.0 349.5,549.5 349.7,547.9 349.6,546.2 349.7,544.6 348.5,543.3 347.3,542.0 346.0,540.9 344.7,539.7 343.7,538.5 342.8,537.2 341.6,536.2 340.1,535.4 338.9,534.4 338.4,532.8 336.9,532.0 336.1,530.6 334.8,529.7 333.4,529.1 332.3,528.1 331.0,527.3 329.9,526.2 328.8,525.2 327.3,524.7 325.8,524.2 324.3,523.6 322.8,523.3 321.2,522.9 319.8,522.2 318.8,520.7 317.1,519.9 316.3,518.2 314.8,517.2 313.4,516.6 311.8,516.7 310.5,515.6 308.9,515.9 307.6,515.1 306.1,514.7 306.7,513.2 308.3,512.5 308.7,510.8 309.8,509.7 311.1,508.9 311.7,507.3 313.1,506.6 313.8,505.1 314.9,504.0 316.3,503.3 317.3,502.2 318.7,501.5 319.6,500.2 320.7,499.3 321.8,498.2 322.7,496.9 323.5,495.6 324.8,494.8 325.9,493.7 326.8,492.4 328.2,491.5 329.2,490.3 330.4,489.2 331.3,487.9 332.7,487.2 333.6,485.9 334.8,484.8 336.2,484.1 337.5,483.0 339.0,482.6 340.5,482.0 342.1,481.6 343.3,480.6 344.7,479.8 344.7,478.2 345.2,476.6 345.6,475.1 346.3,473.6 346.5,472.0 346.7,470.4 346.6,468.8 346.0,467.3 345.4,465.2 344.0,463.5 342.9,462.3 341.5,461.6 340.0,461.0 339.9,459.2 338.6,457.8 338.5,456.0 338.7,454.5 338.9,453.0 339.2,451.5 339.3,450.0 339.4,448.5 339.5,447.0 340.3,445.6 339.9,444.0 340.7,442.6 341.4,441.3 341.4,439.7 339.8,440.3 338.1,440.4 336.4,439.9 334.7,440.0 333.1,440.6 331.4,440.7 329.7,440.4 328.1,439.7 328.0,438.0 327.5,436.4 326.9,434.7 326.5,433.1 326.1,431.4 325.7,429.7 325.3,428.0 324.1,426.6 324.0,424.8 322.4,424.0 321.4,422.4 319.8,421.5 318.2,420.9 316.5,420.8 314.8,420.9 313.2,420.6 311.5,420.6 309.8,420.5 308.2,420.7 306.5,419.9 304.8,420.2 303.2,419.8 301.5,419.8 301.2,418.1 300.7,416.5 300.7,414.8 300.2,413.2 299.9,411.5 299.4,409.9 299.8,408.1 298.9,406.5 298.6,404.9 298.5,403.2 298.4,401.5 298.2,399.8 298.3,398.1 297.7,396.5 297.4,394.9 297.4,393.2 298.0,391.6 298.2,389.8 298.9,388.2 299.2,386.5 299.9,384.9 300.8,383.3 300.7,381.5 301.5,379.9 301.7,378.2 302.2,376.5 302.6,374.8 303.2,373.2 303.4,371.1 303.2,369.1 302.5,367.8 301.5,366.6 300.6,365.3 299.3,364.3 297.9,363.5 297.3,362.0 295.8,361.2 294.9,359.9 294.4,358.4 294.3,356.9 294.5,355.3 293.7,353.9 293.4,352.3 293.2,350.8 291.7,350.4 290.2,350.2 288.6,350.7 287.1,350.9 285.6,350.2 284.0,350.2 282.5,350.5 281.0,350.0 279.4,350.4 277.9,350.4 276.4,350.0 274.8,349.8 273.3,350.0 273.1,348.3 273.3,346.6 272.4,345.0 272.7,343.3 272.4,341.7 272.4,340.0 270.5,339.1 269.1,337.5 269.6,336.0 269.1,334.5 269.3,333.0 270.1,331.5 269.9,330.0 270.3,328.4 270.2,326.9 269.7,325.3 270.2,323.8 269.8,322.2 268.3,322.1 266.9,321.2 265.5,320.7 263.9,320.9 262.4,320.6 261.1,319.7 259.6,319.5 258.0,318.7 256.3,318.5 254.7,317.9 252.9,317.9 251.2,317.5 249.6,317.0 248.0,316.6 246.7,315.8 245.5,314.5 243.8,314.5 242.4,313.7 241.1,312.8 239.7,312.0 238.0,311.8 236.5,310.9 234.9,310.4 233.3,309.8 231.9,308.9 230.3,308.2 228.8,307.6 227.2,307.0 225.9,306.1 224.4,305.5 223.1,304.5 221.3,304.5 219.9,303.7 218.5,303.1 217.2,302.0 216.5,300.6 216.4,299.0 216.1,297.4 215.2,296.1 214.7,294.6 214.0,293.0 213.7,291.3 213.5,289.6 212.9,288.0 212.9,286.2 212.2,284.6 212.2,283.0 211.3,281.7 211.0,280.2 210.8,278.7 210.1,277.4 209.7,275.9 208.0,275.7 206.5,274.6 204.7,274.6 203.1,274.7 201.9,276.0 200.2,275.9 198.8,276.7 197.3,277.1 196.3,278.3 195.0,279.0 193.7,279.8 192.2,280.3 191.2,281.5 189.8,282.1 188.6,283.2 187.1,283.8 185.4,284.0 184.1,285.0 182.6,285.5 181.2,286.4 179.8,287.1 178.4,288.0 177.0,288.7 175.4,289.1 174.0,290.0 172.4,290.4 170.8,290.7 169.3,291.5 167.8,292.1 166.3,292.6 164.8,293.3 163.2,293.3 161.7,293.1 160.2,292.5 158.6,292.6 157.0,292.6 155.5,292.4 153.9,292.3 152.4,292.1 152.0,290.6 152.2,289.0 151.4,287.6 151.7,286.0 151.1,284.6 151.2,283.0 151.0,281.5 150.1,280.1 150.1,278.6 149.9,277.1 148.3,277.4 147.1,278.7 145.7,279.5 144.1,279.8 142.9,280.9 141.3,281.3 139.9,282.1 138.3,281.9 137.0,280.7 135.3,280.8 133.8,280.4 132.4,279.6 131.2,278.6 129.8,278.0 128.7,277.1 127.4,276.3 126.4,275.1 124.9,274.6 124.2,273.2 123.4,271.8 122.4,270.5 122.1,268.9 121.2,267.5 120.8,266.0 120.0,264.6 119.2,263.3 118.1,262.1 116.9,261.1 116.2,259.7 115.3,258.4 114.5,257.1 113.8,255.7 112.5,254.7 111.9,253.1 111.6,251.4 111.2,249.7 111.9,248.2 113.3,247.4 113.9,245.8 115.0,244.7 116.2,243.6 117.1,242.4 117.6,240.8 118.7,239.7 119.4,238.2 119.3,236.6 119.6,235.0 120.0,233.5 120.7,232.0 120.6,230.3 120.9,228.8 121.2,227.2 121.8,225.6 123.0,224.4 123.4,222.8 124.0,221.2 124.9,219.8 126.0,218.7 127.3,217.9 128.8,217.6 130.1,216.7 131.4,216.0 132.4,214.8 134.1,214.7 135.6,214.0 137.2,213.6 138.7,213.1 140.3,212.7 141.9,212.2 143.3,211.2 144.9,211.0 146.5,211.1 148.0,210.5 149.6,210.3 151.2,210.8 152.7,209.9 154.3,210.2 155.9,210.0 156.1,208.4 156.8,207.0 156.9,205.4 157.5,203.9 157.4,202.3 157.9,200.8 157.8,199.2 157.5,197.6 158.1,196.1 157.8,194.5 158.7,193.0 158.8,191.4 158.6,189.8 158.6,188.2 158.6,186.7 159.3,185.2 159.5,183.6 159.8,182.1 159.7,180.5 159.4,178.9 159.9,177.4 160.1,175.7 159.5,174.0 160.2,172.3 160.1,170.6 160.2,168.9 160.2,167.2 159.9,165.5 158.7,164.6 157.6,163.4 156.2,162.8 154.9,162.0 154.9,160.5 154.8,159.0 154.8,157.5 154.5,156.0 154.6,154.5 155.2,153.0 154.9,151.5 156.5,151.2 158.1,151.5 159.7,151.5 161.3,151.4 162.9,151.2 164.5,151.1 164.3,149.2 164.3,147.4 164.5,145.5 162.8,145.8 161.2,145.4 159.5,145.3 157.8,145.5 158.3,143.9 157.8,142.2 158.5,140.6 158.6,139.0 158.3,137.3 159.8,137.0 161.4,137.6 162.9,137.2 164.4,137.4 165.9,137.2 167.4,136.8 169.0,136.6 170.5,136.8 172.0,136.7 173.5,136.2 175.1,136.9 176.6,136.5 178.3,135.4 179.9,134.3 181.5,133.2 183.0,133.0 184.4,132.1 185.9,131.7 187.4,131.5" />
<polyline points="233.1,131.5 234.7,132.4 236.5,133.0 238.0,134.0 239.1,135.1 240.3,136.1 241.0,137.5 241.6,139.0 241.5,140.7 241.6,142.3 241.4,143.9 241.9,145.5 242.3,147.0 242.5,148.6 242.8,150.2 242.8,151.8 243.3,153.4 243.4,155.1 244.6,156.5 244.8,158.1 245.1,159.8 245.7,161.3 244.9,162.8 244.5,164.5 243.9,166.1 243.4,167.8 244.2,169.2 245.3,170.2 246.8,170.9 247.7,172.2 248.5,173.5 249.9,174.3 251.3,175.1 252.8,175.7 254.0,176.7 254.4,175.1 253.8,173.4 254.0,171.7 254.5,170.1 254.6,168.4 255.9,167.0 257.5,166.2 258.8,164.8 260.1,166.2 261.7,167.1 263.0,168.4 265.1,168.6 267.1,168.4 267.7,167.0 268.2,165.5 268.4,164.0 268.9,162.5 269.6,161.0 270.0,159.4 271.0,158.1 272.1,156.8 272.5,155.1 274.1,155.4 275.7,154.6 277.3,154.6 278.9,154.7 280.5,155.0 282.1,154.7 283.7,154.4 285.3,154.7 285.3,153.2 285.4,151.6 285.6,150.1 285.3,148.6 285.6,147.1 285.6,145.5 285.5,144.0" />
<polyline points="285.3,154.7 285.2,156.4 285.8,158.0 285.3,159.7 285.5,161.3 286.5,162.6 287.3,164.0 287.7,165.5 288.8,166.8 289.1,168.4 290.8,169.0 292.2,170.2 293.7,171.3 295.4,171.9 296.7,173.2 297.8,174.5 299.1,175.5 300.7,176.2 301.9,177.3 303.3,178.2 304.8,178.9 305.8,180.2 307.6,180.4 308.9,181.4 310.3,182.2 311.6,183.2 313.3,183.5 314.9,183.2 316.6,183.2 316.3,184.9 315.8,186.5 315.0,188.1 314.9,189.8 314.6,191.5 313.6,193.1 313.3,194.8 312.4,196.2 312.0,197.7 311.3,199.2 310.6,200.6 309.9,202.0 309.3,203.5 308.4,204.8 307.8,206.3 307.2,207.8 306.2,209.0 305.7,210.6 305.0,212.0 304.1,213.2 302.9,214.3 302.3,215.7 301.4,217.0 300.1,218.0 299.1,219.1 298.3,220.5 297.7,221.9 296.7,223.1 295.9,224.7 295.1,226.3 294.8,228.1 293.8,229.7 293.3,231.4 292.5,232.7 292.2,234.3 291.8,235.7 291.5,237.3 291.0,238.7 291.6,240.2 292.7,241.5 293.1,243.3 294.0,244.6 294.8,246.1" />
<polyline points="111.2,249.7 112.6,250.4 114.3,250.1 115.7,250.7 117.4,250.4 118.8,251.0 120.3,251.6 121.9,251.4 123.4,252.0 124.9,252.2 126.4,252.2 127.9,252.6 129.3,253.4 130.9,252.9 132.3,253.8 134.0,253.3 135.4,254.0 136.9,254.5 138.4,254.7 139.9,254.7 141.4,255.0 142.8,255.6 144.2,256.1 145.7,256.6 147.1,257.0 148.6,257.3 150.2,257.4 151.5,258.2 153.0,258.5 154.5,258.9 155.8,259.7 157.4,259.7 159.0,260.0 160.2,261.2 161.8,261.4 163.1,262.4 164.5,263.2 166.2,263.2 167.5,264.1 169.0,264.7 170.5,265.2 172.0,265.6 173.3,266.6 174.8,267.1 176.2,268.1 177.7,268.5 179.4,268.8 180.7,269.9 182.3,270.2 183.9,270.6 185.3,271.6 186.8,272.1 188.3,272.8 189.8,273.4 191.4,274.2 193.1,274.3 194.7,275.0 196.5,274.9 198.1,275.7 199.8,275.9 201.3,275.1 203.0,274.9 204.7,274.6" />
<polyline points="209.7,275.9 210.8,274.7 211.8,273.5 212.9,272.3 213.6,270.8 214.7,269.6 215.8,268.6 217.1,267.8 218.5,267.1 219.5,265.9 220.9,265.3 222.2,264.6 223.4,263.4 224.1,261.9 225.3,260.8 226.7,259.8 227.9,258.6 228.5,257.0 229.7,255.9 231.2,255.4 232.6,255.1 234.1,254.8 235.7,255.2 237.2,254.7 238.6,255.6 240.3,256.0 241.6,256.9 243.0,257.8 244.6,258.4 246.1,258.9 246.9,260.3 248.2,261.2 249.7,261.5 250.7,262.7 252.1,263.4 253.8,263.6 255.4,263.3 257.1,263.4" />
<polyline points="257.1,263.4 258.7,263.7 260.2,263.0 261.7,263.2 263.3,263.0 264.8,263.1 266.4,263.4 267.9,263.1 269.4,263.1 271.0,263.4 272.5,262.7 274.0,262.6 275.6,262.9 277.1,262.4 278.7,263.1 280.2,262.5 281.8,262.5 283.3,262.5 284.8,262.8 286.4,262.8 287.9,262.6 289.4,262.1 291.0,262.3 292.1,260.4 293.5,258.6 293.8,257.1 293.6,255.4 294.3,253.9 294.5,252.4 294.1,250.8 294.4,249.2 294.4,247.6 294.8,246.1" />
<polyline points="294.8,246.1 295.2,247.6 296.4,248.9 296.5,250.6 297.6,251.8 297.6,253.6 298.5,254.9 299.2,256.4 299.9,257.9 301.0,259.2 301.8,260.6 302.2,262.3 303.5,263.2 304.4,264.7 305.9,265.5 307.0,266.7 308.7,267.2 309.7,268.6 311.3,268.4 312.8,268.4 314.3,269.2 315.9,268.8 317.4,269.0 318.9,269.5 320.4,269.7 322.0,269.5 323.5,269.7 325.1,269.7 326.6,270.1 328.1,270.0 329.7,270.2 331.2,270.2 332.7,270.4 334.3,270.5 335.8,270.4 337.3,270.8 338.9,271.2 340.4,271.0 342.0,271.0 343.4,271.8 345.0,271.6 346.5,271.7 348.0,271.8 349.5,271.8 351.0,272.4 352.5,272.4 354.0,272.4 355.5,272.5 357.0,272.7 358.6,272.6 360.1,272.6 361.6,272.7 363.1,272.9 364.6,273.0 366.1,273.2 367.6,273.3 369.1,273.6 370.6,273.8 372.2,273.4 373.7,273.3 375.2,273.6 376.7,273.5 378.1,274.3 379.7,274.3 381.2,274.1 382.7,274.1 384.2,274.8 385.7,274.6" />
<polyline points="257.1,263.4 256.7,264.9 256.8,266.5 256.8,268.1 256.6,269.6 256.8,271.2 256.8,272.7 256.6,274.3 256.3,275.8 256.1,277.4 256.1,278.9 256.2,280.5 256.8,282.0 256.6,283.6 255.9,285.1 256.2,286.7 256.1,288.2 256.1,289.8 257.7,289.6 259.3,290.1 260.9,289.8 262.5,290.2 264.1,289.4 265.6,290.2 267.2,289.4 268.8,289.5 270.4,289.7 272.0,289.9 273.6,289.8 274.8,292.3 275.0,293.9 274.5,295.5 274.1,297.0 274.4,298.6 274.0,300.2 274.1,301.8 274.0,303.4 274.2,305.0 273.9,306.5 273.3,308.1 273.6,309.7 273.0,311.2 272.9,312.9 272.2,314.4 271.7,315.9 271.4,317.6 270.7,319.1 270.2,320.6 269.8,322.2" />
<polyline points="385.7,274.6 386.1,272.8 387.1,271.3 388.3,269.9 389.0,268.3 389.6,266.9 390.4,265.6 391.7,264.7 392.4,263.3 393.6,261.6 395.0,260.0 396.5,257.7 397.3,256.3 397.4,254.6 397.5,253.0 398.4,251.6 398.5,249.9 399.4,248.5 399.6,246.9 400.2,245.4 400.6,243.9 400.4,242.2 401.2,240.7 402.5,238.9 404.3,237.6 405.5,236.5 406.1,234.8 407.1,233.6 408.0,232.2 409.1,231.0 410.4,229.9 410.4,228.3 410.8,226.8 410.2,225.2 410.4,223.7 408.8,223.5 407.4,222.7 405.8,222.9 404.3,222.2" />
<polyline points="404.3,222.2 405.8,220.6 407.4,219.9 408.9,219.1 410.6,218.6 412.0,217.5 413.0,216.3 414.5,215.7 415.7,214.7 417.1,214.1 418.2,212.9 419.0,211.2 420.4,209.9 421.3,208.3 421.8,206.6 422.8,205.2 424.0,203.8 424.4,202.1 424.9,200.4 425.7,198.9 427.0,197.6 427.4,195.9 428.0,194.4 428.2,192.8 429.0,191.0 430.5,189.7 430.8,188.1 431.3,186.6 432.1,185.1 432.3,183.5 433.2,182.1 433.4,180.5 433.6,178.9 434.5,177.5 434.8,175.9 435.2,174.3" />
<polyline points="385.7,274.6 385.2,276.3 385.0,278.1 384.2,279.8 384.0,281.6 383.7,283.3 383.7,285.0 383.0,286.6 382.7,288.2 382.3,289.9 382.3,291.6 381.6,293.2 382.1,294.8 381.4,296.6 382.1,298.2 382.2,299.9 382.5,301.5 382.2,303.2 382.4,304.9 382.0,306.9 382.4,309.0" />
<polyline points="382.4,309.0 383.6,307.4 385.1,306.3 386.5,304.9 387.1,306.6 387.4,308.3 388.2,309.9 389.8,310.5 391.6,310.7 393.2,311.5 394.8,310.8 396.5,310.9 398.1,309.9 399.8,309.9 401.3,311.3 403.4,311.7 404.8,313.2 406.5,313.3 408.2,314.0 409.8,314.7 411.5,314.8 413.2,314.4 414.9,313.9 416.5,313.2 418.1,313.4 419.8,313.4 421.5,312.8 423.1,313.2 424.8,313.3 426.4,312.4 428.0,312.2 429.7,312.3" />
<polyline points="404.3,222.2 405.9,222.0 407.4,222.2 408.9,222.9 410.5,222.9 412.0,222.2 413.6,222.6 415.2,222.8 416.6,223.7 417.4,225.1 417.1,226.9 417.7,228.4 418.2,229.9 417.7,231.4 418.3,233.0 418.1,234.6 417.8,236.1 417.4,237.6 417.3,239.2 417.0,240.8 416.5,242.3 415.9,243.8 417.1,245.4 418.7,246.7 419.7,248.4 421.1,249.1 422.2,250.3 423.5,251.1 424.9,251.9 425.9,253.1 427.4,253.9 429.0,254.6 427.4,256.1 425.9,257.7 425.6,259.3 425.2,260.8 425.2,262.4 424.4,263.9 424.7,265.5 425.4,266.9 425.7,268.5 425.9,270.1 427.8,271.3 429.0,273.1 429.2,274.8 429.9,276.3 430.5,277.8 432.1,278.4 433.6,279.2 435.0,280.3 436.7,280.6" />
<polyline points="436.7,280.6 435.9,282.0 434.7,283.1 433.4,284.1 432.5,285.5 431.4,286.6 430.6,288.2 429.8,289.8 429.9,291.7 428.9,293.2 429.5,294.8 429.9,296.5 429.9,298.3 430.3,299.9 430.8,301.6 431.4,303.2 430.7,304.6 431.1,306.3 430.6,307.8 430.0,309.2 429.7,310.7 429.7,312.3" />
<polyline points="429.7,312.3 430.5,313.7 430.1,315.4 430.8,316.8 431.4,318.2 431.2,319.9 431.8,321.5 431.8,323.2 431.6,324.9 432.2,326.5 432.0,328.2 432.5,329.8 432.4,331.5 432.5,333.2 433.1,334.8 432.8,336.5 433.1,338.1" />
<polyline points="382.4,309.0 382.0,310.9 381.5,312.8 381.6,314.8 381.5,316.4 380.8,317.7 380.3,319.2 380.2,320.7 379.2,322.0 379.4,323.7 378.5,325.0 378.2,326.5 377.7,328.2 377.0,329.9 376.1,331.4 375.8,333.2 374.9,334.8 373.8,335.9 372.5,336.8 371.6,338.1 370.3,339.2 369.8,340.9 368.7,342.1 367.5,343.3 366.6,344.7 365.4,345.9 363.8,346.4 362.8,347.9 361.3,348.7 360.0,349.7 359.1,351.1 358.4,352.6 357.4,354.0 356.4,355.3 355.0,356.4 354.3,358.1 353.5,359.8 352.1,361.1 351.6,363.0 351.9,364.7 352.8,366.3 352.7,368.1 353.3,369.7" />
<polyline points="303.2,369.1 304.4,368.1 305.8,367.4 307.3,366.7 308.7,366.0 309.8,364.9 311.6,364.4 313.1,363.2 314.8,362.3 316.5,361.6 318.2,361.9 319.8,362.3 321.4,363.1 323.1,363.3 324.8,363.6 326.4,364.1 328.2,364.0 329.8,364.8 331.5,364.9 333.2,365.3 334.8,364.6 336.5,365.0 338.1,364.6 339.8,364.9 341.2,363.5 343.1,362.6 344.8,361.6 345.5,363.2 345.4,364.9 345.9,366.6 346.4,368.2 348.1,368.7 349.8,369.4 351.7,368.9 353.3,369.7" />
<polyline points="353.3,369.7 354.7,371.2 355.8,372.8 356.6,374.7 358.0,375.7 359.1,376.9 360.5,377.8 361.9,378.7 363.3,379.6 364.4,380.9 366.0,381.5 367.5,382.3 368.5,383.7 369.9,384.6 371.6,385.1 372.9,386.1 374.5,386.8 375.7,388.0 376.4,389.4 376.8,390.9 376.8,392.5" />
<polyline points="376.8,392.5 375.5,393.8 374.5,395.4 373.0,396.5 372.1,398.1 371.1,399.7 370.7,401.6 369.7,403.2 369.2,405.0 367.9,406.4 367.0,408.1 366.4,409.8 365.4,411.0 365.0,412.5 364.3,413.8 363.4,415.0 363.0,416.5 361.9,417.9 360.6,419.2 360.2,421.0 358.8,422.2 358.0,423.8" />
<polyline points="358.0,423.8 356.5,424.3 355.2,425.1 353.9,426.0 352.4,426.3 351.0,427.1 349.5,427.4 348.1,428.1 346.8,429.3 345.6,430.6 344.6,432.1 343.1,433.1 343.0,434.8 342.2,436.4 341.7,438.0 341.4,439.7" />
<polyline points="376.8,392.5 377.6,391.0 377.8,389.5 377.7,387.8 378.2,386.3 379.5,385.3 380.9,384.3 382.4,383.5 383.5,382.2 384.9,381.3 386.4,381.2 387.8,380.3 389.2,379.8 390.6,379.4 392.0,378.8 393.6,378.9 394.9,378.0 396.5,377.4 398.2,377.5 399.8,377.0 401.5,377.3 403.1,376.6 404.8,376.4 406.4,376.4 408.1,376.3 409.8,376.0 411.5,375.7 413.1,375.1 414.8,374.7 415.0,373.0 415.5,371.3 416.4,369.8 416.5,368.0 416.6,366.3 416.9,364.6 418.0,363.1 418.1,361.4 417.9,359.7 417.4,358.1 417.2,356.4 417.3,354.7 417.9,353.1 418.1,351.4 418.1,349.7 419.6,348.5 421.4,348.1 422.4,346.5 423.1,344.7 423.4,343.0 424.2,341.4 424.8,339.8 425.7,338.1 426.4,336.4 427.9,335.5 429.9,335.7 431.4,334.8 432.4,336.4 433.1,338.1" />
<polygon points="407.3,342.3 418.1,342.3 418.1,348.9 407.3,348.9 407.3,342.3" fill="#808080"/>
<polyline points="376.8,392.5 378.4,392.3 380.0,393.0 381.6,392.4 383.2,392.9 385.0,393.0 386.5,394.0 388.2,394.3 389.9,394.8 391.5,395.6 393.2,396.1 394.9,396.3 396.4,395.5 398.0,394.8 399.8,394.6 401.4,395.2 403.1,395.6 404.8,396.1 406.5,396.0 408.1,396.6 409.8,396.1 411.5,396.6 413.2,396.1 414.8,396.6 416.3,397.6 418.1,397.9 417.5,399.6 417.6,401.3 417.7,403.1 417.3,404.8 417.8,406.3 418.4,407.8 419.2,409.2 420.5,410.3 420.9,411.9 421.9,413.2 422.3,414.8 422.7,416.5 422.7,418.2 423.2,419.9 424.2,421.4 424.3,423.1 424.8,424.8 425.8,426.4 426.7,428.0 427.3,429.8 429.0,429.6 430.7,429.2 432.3,428.4 433.9,428.1 435.7,427.9 437.3,427.3 438.5,428.3 440.0,429.0 441.6,428.8 443.1,428.3 444.7,428.5" />
<polyline points="444.7,428.5 445.1,430.4 444.7,432.2 443.6,434.0 442.0,435.5" />
<polyline points="440.0,429.0 441.9,428.7 443.5,427.9 445.3,427.3 447.1,426.8 448.9,426.0 450.7,425.5 452.4,424.9 454.2,424.3 456.1,424.6 457.8,423.7 459.6,423.6 461.3,423.0 463.2,423.3 464.9,423.1 466.7,422.8 468.1,422.2 469.5,421.7 470.8,420.9 472.1,420.1 473.0,418.4 473.7,416.7 473.9,414.8 475.0,413.5 476.3,412.5 477.4,411.2 478.9,411.8 480.3,412.6 481.8,413.3 483.1,414.2 484.6,414.8" />
<polyline points="477.4,411.2 477.3,409.4 477.4,407.6 478.2,405.8 479.2,404.1 480.6,403.1 481.8,401.9 482.8,400.5 483.8,399.3 484.8,398.0 485.3,396.5 486.3,395.2 486.2,393.4 485.5,391.6 485.5,389.8 485.6,388.0 485.7,386.2 486.3,384.5 487.2,382.8 487.9,381.0 488.1,379.1 489.2,377.8 490.4,376.7 491.7,375.6 493.4,374.7 495.1,374.1 497.0,373.8" />
<polyline points="433.1,338.1 434.5,337.5 436.0,337.0 437.1,335.7 438.5,335.1 440.0,334.6 441.5,334.1 442.7,332.9 444.4,332.7 445.6,331.6 447.1,331.0 448.4,330.3 449.7,329.4 451.1,328.8 452.5,328.3 454.3,328.5 456.1,328.7 457.8,329.2 458.5,331.1 459.6,332.8 461.2,332.9 462.4,334.0 463.8,334.7 465.3,334.8 466.7,335.5 468.3,336.0 469.9,336.7 471.4,337.4 472.6,338.7 474.2,339.2 475.7,339.9 477.3,340.2 478.6,341.3 479.9,342.1 481.5,342.6 482.8,343.5 484.4,344.5 485.5,346.1 486.9,347.4 488.1,348.8 489.5,349.5 491.1,349.3 492.5,350.1 494.0,350.3 495.5,350.4 497.0,350.6 498.5,351.2 499.5,352.6 501.3,353.0 502.4,354.2 501.8,356.0 501.5,357.8 500.6,359.5 499.7,361.0 498.3,362.0 497.0,363.1 496.4,364.6 494.9,365.5 494.3,367.0 493.5,368.4 494.1,369.9 494.9,371.3 495.9,372.6 497.0,373.8 498.2,374.8 499.5,375.5 500.6,376.6 502.0,377.4 503.3,378.2 504.2,377.3" />
<polyline points="358.0,423.8 359.7,424.9 361.4,424.6 363.1,424.9 364.8,424.8 366.5,424.8 368.2,425.0 369.9,424.8 371.5,425.4 373.1,425.8 374.7,426.2 376.2,426.5 377.8,426.6 379.3,426.0 380.9,426.1 382.4,426.5 384.2,427.3 385.7,428.5 387.1,429.9 387.2,431.5 388.3,432.8 388.7,434.4 389.1,435.9 389.6,437.4 390.0,439.1 390.6,440.7 390.6,442.5 391.4,444.0 391.4,445.8 392.1,447.4 393.4,448.9 395.0,450.0 396.8,450.8 398.0,452.4 399.6,453.6 401.1,454.2 401.9,455.7 403.7,456.1 404.7,457.3" />
<polyline points="346.0,467.3 347.5,467.3 349.0,467.9 350.5,467.9 352.0,468.2 353.5,468.1 355.0,468.4 356.6,468.5 358.1,468.3 359.7,468.6 361.3,469.2 363.0,469.7 364.5,470.5 366.2,470.9 368.0,470.5 369.7,471.1 370.8,469.9 372.0,469.0 373.5,468.3 374.7,467.3 376.3,467.2 377.8,466.6 379.4,467.3 380.9,467.0 382.4,466.4 384.0,466.1 385.6,466.5 387.1,466.1 388.7,466.5 390.2,465.8 391.8,466.3 393.4,466.4 394.9,466.5 396.5,465.8 398.0,465.8 399.6,466.1" />
<polyline points="344.7,479.8 346.3,479.3 348.0,479.2 349.7,479.6 351.4,479.4 353.0,478.8 354.7,478.6 356.4,478.5 358.0,478.9 359.7,479.0 361.4,479.5 363.0,479.8 364.7,479.8 366.0,480.7 367.6,481.2 369.0,481.9 370.4,482.6 371.9,483.3 373.3,484.0 374.7,484.8 375.6,486.0 376.7,487.1 378.0,487.9 378.9,489.1 380.2,489.9 381.3,490.9 382.1,492.3 382.7,493.8 383.2,495.3 384.0,496.7 384.5,498.2 384.6,499.8 384.7,501.4 384.2,503.1 384.6,504.7" />
<polyline points="486.1,192.8 484.4,194.1 483.1,195.9 481.8,197.3 480.1,198.1 478.4,199.0 477.5,200.6 476.5,202.2 475.3,203.6 475.1,205.3 474.2,206.7 473.8,208.3 473.1,209.7 473.1,211.4 472.9,212.9 472.2,214.4 472.6,215.9 472.6,217.5 472.0,219.1 472.4,220.6 472.0,222.1 472.2,223.7 471.7,225.2 472.1,226.9 471.7,228.4 471.4,229.9 470.7,231.4 470.7,233.0 471.0,234.6 471.9,236.0 472.2,237.6 470.7,238.4 469.2,239.2 467.6,239.3 466.1,239.2 464.6,238.9 463.0,239.2 461.5,240.1 459.8,240.4 458.2,241.1 456.8,242.2 455.2,242.7 453.6,243.1 452.0,243.7 450.8,245.0 449.1,245.3 447.4,245.7 446.1,247.1 444.3,247.4 442.9,248.4 442.2,250.2 441.0,251.6 439.8,253.1 439.9,254.6 439.5,256.2 439.6,257.7 440.1,259.3 439.8,260.8 439.0,262.2 438.6,263.8 438.4,265.4 438.3,267.1 437.5,268.5 437.7,270.0 437.7,271.6 437.6,273.1 437.1,274.7 437.5,276.2 437.0,278.4 436.7,280.6" />
<polyline points="492.3,193.6 491.8,195.4 492.2,197.2 491.6,199.0 492.0,200.5 491.7,202.1 492.2,203.6 492.4,205.1 492.3,206.7 493.0,208.2 493.3,209.7 493.3,211.3 493.5,212.9 494.0,214.4 494.2,216.0 494.4,217.5 494.9,219.1 495.3,220.6 495.0,222.2 495.4,223.7 495.6,225.2 495.6,226.8 495.7,228.3 495.7,229.9 496.5,231.2 497.2,232.6 497.6,234.1 498.1,235.5 498.5,237.0 499.5,238.3 500.3,239.7 500.7,241.3 500.2,243.1 500.0,245.0 498.7,246.5 498.5,248.4 498.6,250.2 498.6,251.9 498.5,253.7 498.5,255.5" />
<polyline points="436.7,280.6 438.2,281.2 439.4,282.3 440.3,283.7 441.6,284.6 442.9,285.5 444.4,286.0 446.0,286.4 447.5,287.0 449.1,286.6 450.6,285.9 452.2,285.5 453.7,284.7 455.1,283.8 456.4,282.8 457.6,281.6 458.8,280.5 459.9,279.3 460.5,277.7 461.2,276.2 461.8,274.7 462.4,273.1 463.0,271.6 464.6,271.7 466.1,271.5 467.6,270.6 469.2,270.8 470.6,271.6 472.2,272.0 473.7,272.6 475.3,273.1 477.0,272.7 478.2,271.2 479.9,270.8 481.5,270.1 482.8,269.1 484.5,268.6 485.5,267.1 487.1,266.5 488.5,265.5 489.7,264.2 491.5,263.5 492.8,262.3 494.2,261.2 495.7,261.2" />
<polyline points="498.5,255.5 497.6,256.8 497.3,258.4 496.1,259.6 495.7,261.2 495.3,262.9 494.2,264.1 495.5,265.4 496.2,267.1 497.2,268.6 498.5,269.8 498.5,272.6" />
<polyline points="498.5,272.6 500.0,272.4 501.3,271.5 502.8,271.2 503.4,269.6 504.8,268.4 505.6,266.9 507.1,266.2 508.3,264.8 510.1,264.7 511.4,263.5 512.8,262.6 514.4,262.8 515.6,263.7 517.1,264.2 518.6,264.6 519.9,265.5 521.2,266.5 522.6,267.3 524.3,267.3 525.6,268.3 526.3,270.1 527.0,271.9" />
<polyline points="498.5,248.4 500.2,247.8 502.1,247.9 503.8,247.0 505.6,247.0 507.5,247.3 509.4,247.9 511.3,248.4 512.7,249.5 514.2,250.5 515.5,251.7 517.0,252.7 518.7,253.0 520.4,252.8 522.0,252.3" />
<polyline points="537.0,217.8 535.8,219.2 535.0,220.8 534.6,222.6 533.8,224.2 532.7,225.6 531.8,226.8 530.7,227.9 529.8,229.1 529.0,230.4 527.6,231.2 527.0,232.7 526.2,234.2 525.5,235.8 524.2,237.0 524.2,238.9 523.7,240.6 522.9,242.3 522.7,244.1 522.3,245.7 522.8,247.4 522.5,249.0 522.4,250.7 522.0,252.3" />
<polyline points="524.2,237.0 526.0,236.9 527.8,236.7 529.5,235.7 531.3,235.6 532.6,234.6 534.3,234.5 535.8,233.8 537.0,232.7 537.3,234.2 538.0,235.6 538.4,237.0 538.7,238.5 539.1,239.9 539.8,241.3 541.7,241.8 543.6,242.0 545.5,242.7 546.2,241.3 547.1,239.9 547.5,238.4 548.4,237.0 550.2,237.5 552.0,237.4 553.6,238.5 555.5,238.4 557.3,238.3 559.1,238.5 560.8,239.3 562.6,239.1 564.3,239.9 566.2,239.9" />
<polyline points="522.0,252.3 523.6,252.8 525.2,252.8 526.8,252.9 528.4,252.7 529.9,252.4 531.3,251.6 532.6,250.6 534.2,250.6 535.6,249.8 537.1,249.4 538.4,248.4 538.6,249.9 539.7,251.1 539.8,252.7 539.7,254.3 538.7,255.5 538.4,257.0 539.9,258.4 541.3,259.8 542.9,259.4 544.3,258.8 545.6,257.7 547.0,257.0 548.5,256.6 549.9,256.0 551.3,255.4 552.6,254.6 554.1,254.1 555.6,253.7 556.8,252.6 558.5,252.8 559.9,252.0 561.2,251.3 563.0,251.6 564.8,251.3 566.6,251.3" />
<polyline points="527.0,271.9 527.9,270.6 529.1,269.7 530.3,268.8 531.3,267.6 532.7,268.2 534.3,268.4 535.7,268.8 537.0,269.8 538.5,270.2 539.9,270.6 541.4,271.1 542.7,271.9 544.3,271.1 546.1,270.7 547.9,270.4 549.6,270.0 551.2,269.1 552.9,269.0 554.6,268.1 556.4,268.5 558.1,268.0 559.8,267.6 562.0,267.8" />
<polyline points="527.0,272.6 527.9,273.8 529.1,274.8 530.3,275.7 531.3,276.9 532.8,277.5 534.3,278.0 535.5,279.1 537.0,279.7 538.7,280.5 539.8,282.0 541.1,283.2 542.7,284.0 543.8,285.3 545.0,286.5 546.2,287.6" />
<polyline points="527.0,272.6 527.5,274.2 528.1,275.6 528.9,277.0 529.9,278.3 529.2,280.1 529.4,282.1 529.1,284.0 528.6,285.7 527.3,286.8 526.4,288.2 525.6,289.7 525.7,291.7 526.4,293.5 527.0,295.4 528.5,296.4 530.1,297.2 531.1,298.9 532.7,299.7" />
<polyline points="497.0,373.8 498.2,374.8 499.3,375.9 500.7,376.5 501.9,377.6 503.3,378.2" />
<polyline points="334.1,135.8 335.5,136.7 336.8,137.5 338.5,137.6 339.9,138.3 341.4,139.4 343.2,139.9 345.0,140.4 346.5,141.6 347.6,142.8 348.6,144.2 349.1,145.8 350.6,146.8 351.5,148.2 352.4,149.8 352.7,151.6 353.9,153.0 354.4,154.8 354.9,156.5 355.8,158.1 356.9,159.7 357.3,161.6 358.2,163.2 359.1,164.8 359.6,166.6 360.8,168.1 361.5,169.8 362.5,171.0 364.2,171.3 365.2,172.4 366.5,173.2 367.4,171.9 368.4,170.6 369.8,169.8 370.5,168.1 371.8,166.7 372.2,164.8 373.2,163.2 374.5,162.2 375.9,161.2 377.0,160.0 378.5,159.2 379.8,158.2 381.3,156.8 383.1,155.9 384.8,154.9 385.8,153.7 387.2,152.9 388.1,151.6" />
</g>
<rect x="304.9" y="40.3" width="129.40000000000003" height="26.299999999999997" fill="#fff" stroke="#444" stroke-width="1.2"/><text x="308.4" y="59.4" font-size="17" textLength="121.6" lengthAdjust="spacingAndGlyphs" fill="#1e1e1e" stroke="#1e1e1e" stroke-width="0.25" font-family="Liberation Sans, Arial, sans-serif">SOUTH AMERICA</text>
<rect x="273.1" y="196.2" width="61.69999999999999" height="26.400000000000006" fill="#fff" stroke="#444" stroke-width="1.2"/><text x="279.6" y="215.8" font-size="16.5" textLength="48.3" lengthAdjust="spacingAndGlyphs" fill="#1e1e1e" stroke="#1e1e1e" stroke-width="0.25" font-family="Liberation Sans, Arial, sans-serif">BRAZIL</text>
<rect x="418.9" y="443.3" width="88.20000000000005" height="26.19999999999999" fill="#fff" stroke="#444" stroke-width="1.2"/><text x="422.6" y="461.9" font-size="15.2" textLength="80.6" lengthAdjust="spacingAndGlyphs" fill="#1e1e1e" stroke="#1e1e1e" stroke-width="0.25" font-family="Liberation Sans, Arial, sans-serif">SÃO PAULO</text>
<text x="4.2" y="35" font-size="26" font-family="Liberation Serif, Times New Roman, serif" fill="#000">a)</text>
<text x="578.8" y="137.8" font-size="26" font-family="Liberation Serif, Times New Roman, serif" fill="#000">b)</text>
<text x="376.7" y="648.2" font-size="26" font-family="Liberation Serif, Times New Roman, serif" fill="#000">c)</text>
<line x1="652.8" y1="352.9" x2="1005.8" y2="352.9" stroke="#9a9a9a" stroke-width="1.3" stroke-dasharray="2 1.3"/>
<line x1="652.8" y1="308.1" x2="1005.8" y2="308.1" stroke="#9a9a9a" stroke-width="1.3" stroke-dasharray="2 1.3"/>
<line x1="652.8" y1="263.4" x2="1005.8" y2="263.4" stroke="#9a9a9a" stroke-width="1.3" stroke-dasharray="2 1.3"/>
<line x1="652.8" y1="218.6" x2="1005.8" y2="218.6" stroke="#9a9a9a" stroke-width="1.3" stroke-dasharray="2 1.3"/>
<line x1="652.8" y1="173.9" x2="1005.8" y2="173.9" stroke="#9a9a9a" stroke-width="1.3" stroke-dasharray="2 1.3"/>
<line x1="652.8" y1="129.1" x2="1005.8" y2="129.1" stroke="#9a9a9a" stroke-width="1.3" stroke-dasharray="2 1.3"/>
<rect x="663.8" y="167.1" width="35" height="230.5" fill="#fff" stroke="#333" stroke-width="1.1"/>
<rect x="722.8" y="238.3" width="35" height="159.3" fill="#fff" stroke="#333" stroke-width="1.1"/>
<rect x="781.8" y="350.2" width="35" height="47.4" fill="#fff" stroke="#333" stroke-width="1.1"/>
<rect x="840.8" y="368.5" width="35" height="29.1" fill="#fff" stroke="#333" stroke-width="1.1"/>
<rect x="899.8" y="372.5" width="35" height="25.1" fill="#fff" stroke="#333" stroke-width="1.1"/>
<rect x="958.8" y="374.8" width="35" height="22.8" fill="#fff" stroke="#333" stroke-width="1.1"/>
<clipPath id="hc"><rect x="663.8" y="265.6" width="35" height="132.0"/></clipPath>
<g clip-path="url(#hc)" stroke="#000" stroke-width="2.5"><line x1="662.8" y1="221.5" x2="699.8" y2="189.2"/><line x1="662.8" y1="236.0" x2="699.8" y2="203.7"/><line x1="662.8" y1="250.4" x2="699.8" y2="218.2"/><line x1="662.8" y1="264.9" x2="699.8" y2="232.6"/><line x1="662.8" y1="279.4" x2="699.8" y2="247.1"/><line x1="662.8" y1="293.8" x2="699.8" y2="261.5"/><line x1="662.8" y1="308.2" x2="699.8" y2="275.9"/><line x1="662.8" y1="322.7" x2="699.8" y2="290.4"/><line x1="662.8" y1="337.2" x2="699.8" y2="304.9"/><line x1="662.8" y1="351.6" x2="699.8" y2="319.3"/><line x1="662.8" y1="366.1" x2="699.8" y2="333.8"/><line x1="662.8" y1="380.5" x2="699.8" y2="348.2"/><line x1="662.8" y1="395.0" x2="699.8" y2="362.7"/><line x1="662.8" y1="409.4" x2="699.8" y2="377.1"/><line x1="662.8" y1="423.9" x2="699.8" y2="391.6"/><line x1="662.8" y1="438.3" x2="699.8" y2="406.0"/><line x1="662.8" y1="452.8" x2="699.8" y2="420.4"/><line x1="662.8" y1="467.2" x2="699.8" y2="434.9"/></g>
<rect x="663.8" y="265.6" width="35" height="132.0" fill="none" stroke="#333" stroke-width="1.1"/>
<line x1="651.8" y1="128.6" x2="651.8" y2="397.6" stroke="#444" stroke-width="1.2"/>
<line x1="647.3" y1="397.6" x2="1005.8" y2="397.6" stroke="#444" stroke-width="1.2"/>
<line x1="647.3" y1="397.6" x2="651.8" y2="397.6" stroke="#444" stroke-width="1.2"/>
<text x="639.2" y="401.6" font-size="11.8" text-anchor="end" fill="#2e2e2e" stroke="#2e2e2e" stroke-width="0.2" font-family="Liberation Sans, Arial, sans-serif">0</text>
<line x1="647.3" y1="352.9" x2="651.8" y2="352.9" stroke="#444" stroke-width="1.2"/>
<text x="639.2" y="356.9" font-size="11.8" text-anchor="end" fill="#2e2e2e" stroke="#2e2e2e" stroke-width="0.2" font-family="Liberation Sans, Arial, sans-serif">100</text>
<line x1="647.3" y1="308.1" x2="651.8" y2="308.1" stroke="#444" stroke-width="1.2"/>
<text x="639.2" y="312.1" font-size="11.8" text-anchor="end" fill="#2e2e2e" stroke="#2e2e2e" stroke-width="0.2" font-family="Liberation Sans, Arial, sans-serif">200</text>
<line x1="647.3" y1="263.4" x2="651.8" y2="263.4" stroke="#444" stroke-width="1.2"/>
<text x="639.2" y="267.4" font-size="11.8" text-anchor="end" fill="#2e2e2e" stroke="#2e2e2e" stroke-width="0.2" font-family="Liberation Sans, Arial, sans-serif">300</text>
<line x1="647.3" y1="218.6" x2="651.8" y2="218.6" stroke="#444" stroke-width="1.2"/>
<text x="639.2" y="222.6" font-size="11.8" text-anchor="end" fill="#2e2e2e" stroke="#2e2e2e" stroke-width="0.2" font-family="Liberation Sans, Arial, sans-serif">400</text>
<line x1="647.3" y1="173.9" x2="651.8" y2="173.9" stroke="#444" stroke-width="1.2"/>
<text x="639.2" y="177.9" font-size="11.8" text-anchor="end" fill="#2e2e2e" stroke="#2e2e2e" stroke-width="0.2" font-family="Liberation Sans, Arial, sans-serif">500</text>
<line x1="647.3" y1="129.1" x2="651.8" y2="129.1" stroke="#444" stroke-width="1.2"/>
<text x="639.2" y="133.1" font-size="11.8" text-anchor="end" fill="#2e2e2e" stroke="#2e2e2e" stroke-width="0.2" font-family="Liberation Sans, Arial, sans-serif">600</text>
<line x1="651.8" y1="397.6" x2="651.8" y2="402.1" stroke="#444" stroke-width="1.2"/>
<line x1="710.8" y1="397.6" x2="710.8" y2="402.1" stroke="#444" stroke-width="1.2"/>
<line x1="769.8" y1="397.6" x2="769.8" y2="402.1" stroke="#444" stroke-width="1.2"/>
<line x1="828.8" y1="397.6" x2="828.8" y2="402.1" stroke="#444" stroke-width="1.2"/>
<line x1="887.8" y1="397.6" x2="887.8" y2="402.1" stroke="#444" stroke-width="1.2"/>
<line x1="946.8" y1="397.6" x2="946.8" y2="402.1" stroke="#444" stroke-width="1.2"/>
<line x1="1005.8" y1="397.6" x2="1005.8" y2="402.1" stroke="#444" stroke-width="1.2"/>
<text x="681.3" y="422.3" font-size="12.2" text-anchor="middle" fill="#2e2e2e" stroke="#2e2e2e" stroke-width="0.2" font-family="Liberation Sans, Arial, sans-serif" textLength="28.4" lengthAdjust="spacingAndGlyphs">Brazil</text>
<text x="740.3" y="422.3" font-size="12.2" text-anchor="middle" fill="#2e2e2e" stroke="#2e2e2e" stroke-width="0.2" font-family="Liberation Sans, Arial, sans-serif" textLength="25.2" lengthAdjust="spacingAndGlyphs">India</text>
<text x="799.3" y="422.3" font-size="12.2" text-anchor="middle" fill="#2e2e2e" stroke="#2e2e2e" stroke-width="0.2" font-family="Liberation Sans, Arial, sans-serif" textLength="28.8" lengthAdjust="spacingAndGlyphs">China</text>
<text x="858.3" y="422.3" font-size="12.2" text-anchor="middle" fill="#2e2e2e" stroke="#2e2e2e" stroke-width="0.2" font-family="Liberation Sans, Arial, sans-serif" textLength="45.5" lengthAdjust="spacingAndGlyphs">Thailand</text>
<text x="917.3" y="422.3" font-size="12.2" text-anchor="middle" fill="#2e2e2e" stroke="#2e2e2e" stroke-width="0.2" font-family="Liberation Sans, Arial, sans-serif" textLength="43.6" lengthAdjust="spacingAndGlyphs">Pakistan</text>
<text x="976.3" y="422.3" font-size="12.2" text-anchor="middle" fill="#2e2e2e" stroke="#2e2e2e" stroke-width="0.2" font-family="Liberation Sans, Arial, sans-serif" textLength="37.8" lengthAdjust="spacingAndGlyphs">Mexico</text>
<text x="739.8" y="108.3" font-size="15.6" fill="#111" stroke="#111" stroke-width="0.15" font-family="Liberation Sans, Arial, sans-serif" textLength="162" lengthAdjust="spacingAndGlyphs">Sugarcane Production</text>
<text transform="translate(609.8,304) rotate(-90)" x="0" y="0" font-size="12" font-weight="bold" fill="#222" font-family="Liberation Sans, Arial, sans-serif" textLength="71" lengthAdjust="spacingAndGlyphs">Million tons</text>
<clipPath id="lc"><rect x="896.5" y="189" width="14.7" height="14"/></clipPath>
<g clip-path="url(#lc)" stroke="#000" stroke-width="2"><line x1="893" y1="204.5" x2="913" y2="187.5"/><line x1="893" y1="195" x2="903" y2="186.5"/><line x1="903" y1="206" x2="914" y2="196.5"/></g>
<rect x="896.5" y="189" width="14.7" height="14" fill="none" stroke="#555" stroke-width="1"/>
<text x="916.7" y="201" font-size="13" fill="#222" stroke="#222" stroke-width="0.25" font-family="Liberation Sans, Arial, sans-serif" textLength="83" lengthAdjust="spacingAndGlyphs">São Paulo State</text>
<defs><linearGradient id="gm" x1="0" x2="1" y1="0" y2="0"><stop offset="0" stop-color="#666"/><stop offset="0.55" stop-color="#4a4a4a"/><stop offset="1" stop-color="#363636"/></linearGradient><linearGradient id="gl" x1="0" x2="1" y1="0" y2="0"><stop offset="0" stop-color="#555"/><stop offset="1" stop-color="#4a4a4a"/></linearGradient><linearGradient id="gd" x1="0" x2="1" y1="0" y2="0"><stop offset="0" stop-color="#555"/><stop offset="1" stop-color="#444"/></linearGradient></defs>
<polygon points="585.9,641.0 585.8,643.5 585.4,646.0 584.8,648.5 584.0,650.9 583.0,653.3 581.7,655.7 580.2,658.1 578.5,660.4 576.5,662.6 574.4,664.8 572.0,666.9 569.5,669.0 566.7,671.0 563.8,672.8 560.7,674.6 557.5,676.3 554.1,677.9 550.5,679.4 546.8,680.8 543.0,682.1 539.1,683.2 535.0,684.3 535.0,701.3 539.1,700.2 543.0,699.1 546.8,697.8 550.5,696.4 554.1,694.9 557.5,693.3 560.7,691.6 563.8,689.8 566.7,688.0 569.5,686.0 572.0,683.9 574.4,681.8 576.5,679.6 578.5,677.4 580.2,675.1 581.7,672.7 583.0,670.3 584.0,667.9 584.8,665.5 585.4,663.0 585.8,660.5 585.9,658.0" fill="url(#gl)" stroke="#333" stroke-width="0.5"/>
<polygon points="535.0,684.3 530.9,685.2 526.7,686.0 522.5,686.6 518.2,687.2 513.8,687.6 509.4,687.8 505.0,688.0 500.6,688.0 496.2,687.9 491.8,687.6 487.5,687.2 483.1,686.7 478.9,686.1 474.7,685.3 470.6,684.4 466.5,683.4 462.6,682.3 458.8,681.1 455.1,679.7 451.5,678.3 448.1,676.7 444.8,675.0 441.7,673.3 438.7,671.4 436.0,669.5 433.4,667.5 431.0,665.4 428.8,663.2 426.8,661.0 425.1,658.7 423.5,656.4 422.2,654.0 421.1,651.6 420.2,649.2 419.5,646.8 419.1,644.3 419.1,661.3 419.5,663.8 420.2,666.2 421.1,668.6 422.2,671.0 423.5,673.4 425.1,675.7 426.8,678.0 428.8,680.2 431.0,682.4 433.4,684.5 436.0,686.5 438.7,688.4 441.7,690.3 444.8,692.0 448.1,693.7 451.5,695.3 455.1,696.7 458.8,698.1 462.6,699.3 466.5,700.4 470.6,701.4 474.7,702.3 478.9,703.1 483.1,703.7 487.5,704.2 491.8,704.6 496.2,704.9 500.6,705.0 505.0,705.0 509.4,704.8 513.8,704.6 518.2,704.2 522.5,703.6 526.7,703.0 530.9,702.2 535.0,701.3" fill="url(#gm)" stroke="#333" stroke-width="0.5"/>
<polygon points="419.1,644.3 419.0,643.5 419.0,642.6 418.9,641.8 418.9,641.0 418.9,658.0 418.9,658.8 419.0,659.6 419.0,660.5 419.1,661.3" fill="url(#gd)" stroke="#333" stroke-width="0.5"/>
<polygon points="501.9,634.2 439.4,610.2 442.4,608.3 445.5,606.6 448.8,604.9 452.3,603.4 455.9,602.0 459.6,600.6 463.5,599.4 467.4,598.3 471.5,597.3 475.6,596.5 479.8,595.7 484.1,595.1 488.4,594.7 492.8,594.3 497.2,594.1 501.6,594.0 506.0,594.0 510.4,594.2 514.8,594.5 519.2,595.0 523.5,595.5 527.7,596.2 531.9,597.0 536.0,598.0 540.0,599.0 543.9,600.2 547.6,601.5 551.3,602.9 554.8,604.4 558.1,606.0 561.4,607.7 564.4,609.5 567.3,611.4 570.0,613.4 572.5,615.4 574.8,617.5 576.9,619.7 578.8,622.0 580.4,624.3 581.9,626.6 583.1,629.0 584.1,631.4 584.9,633.9 585.5,636.3 585.8,638.8 585.9,641.3 585.8,643.8 585.4,646.2 584.8,648.7 583.9,651.1 582.9,653.6 581.6,655.9 580.1,658.3 578.3,660.6 576.4,662.8 574.2,665.0 571.9,667.1 569.3,669.1 566.6,671.0 563.7,672.9 560.6,674.7 557.4,676.4 554.0,678.0 550.4,679.4 546.8,680.8 543.0,682.1 539.0,683.2 535.0,684.3" fill="#bfbfbf" stroke="#6a6a6a" stroke-width="0.6" stroke-linejoin="round"/>
<polygon points="501.9,634.2 535.0,684.3 530.9,685.2 526.7,686.0 522.5,686.6 518.2,687.2 513.8,687.6 509.4,687.8 505.0,688.0 500.6,688.0 496.2,687.9 491.8,687.6 487.5,687.2 483.1,686.7 478.9,686.1 474.7,685.3 470.6,684.4 466.5,683.4 462.6,682.3 458.8,681.1 455.1,679.7 451.5,678.3 448.1,676.7 444.8,675.0 441.7,673.3 438.7,671.4 436.0,669.5 433.4,667.5 431.0,665.4 428.8,663.2 426.8,661.0 425.1,658.7 423.5,656.4 422.2,654.0 421.1,651.6 420.2,649.2 419.5,646.8 419.1,644.3" fill="#7f7f7f" stroke="#555" stroke-width="0.6" stroke-linejoin="round"/>
<polygon points="501.9,634.2 419.1,644.3 418.9,641.8 419.0,639.4 419.2,636.9 419.7,634.5 420.4,632.0 421.4,629.6 422.5,627.3 423.9,624.9 425.5,622.6 427.4,620.4 429.4,618.2 431.6,616.1 434.0,614.0 436.6,612.1 439.4,610.2" fill="#595959" stroke="#444" stroke-width="0.6" stroke-linejoin="round"/>
<text x="514.8" y="628.8" font-size="12.4" font-weight="bold" fill="#1a1a1a" stroke="#1a1a1a" stroke-width="0.2" font-family="Liberation Sans, Arial, sans-serif" textLength="30.7" lengthAdjust="spacingAndGlyphs">60,1%</text>
<text x="432.3" y="632.6" font-size="12.4" font-weight="bold" fill="#1a1a1a" stroke="#1a1a1a" stroke-width="0.2" font-family="Liberation Sans, Arial, sans-serif" textLength="30.6" lengthAdjust="spacingAndGlyphs">12,6%</text>
<text x="469" y="662.5" font-size="12.4" font-weight="bold" fill="#1a1a1a" stroke="#1a1a1a" stroke-width="0.2" font-family="Liberation Sans, Arial, sans-serif" textLength="31" lengthAdjust="spacingAndGlyphs">27,3%</text>
<text x="430.5" y="577.5" font-size="13.8" fill="#363636" stroke="#363636" stroke-width="0.3" font-family="Liberation Sans, Arial, sans-serif" textLength="144.5" lengthAdjust="spacingAndGlyphs">Sugarcane Production</text>
<polygon points="799.5,641.0 799.4,643.6 799.0,646.1 798.4,648.6 797.5,651.2 796.4,653.6 795.1,656.1 793.5,658.5 791.7,660.8 789.7,663.1 787.4,665.4 784.9,667.5 782.3,669.6 779.4,671.6 776.4,673.5 773.1,675.3 769.7,677.0 766.2,678.6 762.5,680.1 758.6,681.4 754.6,682.7 750.6,683.8 746.4,684.8 742.1,685.6 742.1,702.6 746.4,701.8 750.6,700.8 754.6,699.7 758.6,698.4 762.5,697.1 766.2,695.6 769.7,694.0 773.1,692.3 776.4,690.5 779.4,688.6 782.3,686.6 784.9,684.5 787.4,682.4 789.7,680.1 791.7,677.8 793.5,675.5 795.1,673.1 796.4,670.6 797.5,668.2 798.4,665.6 799.0,663.1 799.4,660.6 799.5,658.0" fill="url(#gl)" stroke="#333" stroke-width="0.5"/>
<polygon points="742.1,685.6 737.9,686.4 733.6,686.9 729.3,687.4 725.0,687.7 720.6,687.9 716.2,688.0 711.9,687.9 707.5,687.8 703.2,687.4 698.8,687.0 694.6,686.4 690.4,685.7 686.3,684.9 682.2,684.0 678.2,682.9 674.4,681.7 670.7,680.5 667.0,679.1 663.6,677.6 660.2,676.0 657.0,674.3 654.0,672.5 651.2,670.6 648.5,668.7 646.0,666.6 643.7,664.5 641.6,662.4 639.7,660.1 638.1,657.9 636.6,655.5 635.4,653.2 634.3,650.8 633.5,648.4 633.0,645.9 632.6,643.5 632.5,641.0 632.5,658.0 632.6,660.5 633.0,662.9 633.5,665.4 634.3,667.8 635.4,670.2 636.6,672.5 638.1,674.9 639.7,677.1 641.6,679.4 643.7,681.5 646.0,683.6 648.5,685.7 651.2,687.6 654.0,689.5 657.0,691.3 660.2,693.0 663.6,694.6 667.0,696.1 670.7,697.5 674.4,698.7 678.2,699.9 682.2,701.0 686.3,701.9 690.4,702.7 694.6,703.4 698.8,704.0 703.2,704.4 707.5,704.8 711.9,704.9 716.2,705.0 720.6,704.9 725.0,704.7 729.3,704.4 733.6,703.9 737.9,703.4 742.1,702.6" fill="url(#gm)" stroke="#333" stroke-width="0.5"/>
<polygon points="715.6,634.1 658.0,607.2 661.2,605.5 664.7,603.9 668.2,602.5 671.9,601.1 675.7,599.8 679.6,598.7 683.6,597.7 687.7,596.8 691.9,596.0 696.2,595.3 700.5,594.8 704.8,594.4 709.2,594.2 713.6,594.0 718.0,594.0 722.4,594.1 726.8,594.4 731.2,594.8 735.5,595.3 739.8,595.9 743.9,596.7 748.1,597.6 752.1,598.6 756.0,599.7 759.8,601.0 763.5,602.4 767.1,603.8 770.5,605.4 773.8,607.1 776.9,608.8 779.8,610.7 782.6,612.6 785.1,614.6 787.5,616.7 789.7,618.9 791.6,621.1 793.4,623.4 795.0,625.7 796.3,628.1 797.4,630.5 798.3,632.9 798.9,635.4 799.3,637.8 799.5,640.3 799.4,642.8 799.2,645.3 798.6,647.7 797.9,650.2 796.9,652.6 795.7,655.0 794.3,657.3 792.6,659.6 790.8,661.9 788.7,664.1 786.5,666.2 784.0,668.3 781.3,670.3 778.5,672.2 775.5,674.0 772.3,675.7 769.0,677.3 765.5,678.9 761.9,680.3 758.1,681.6 754.3,682.8 750.3,683.9 746.2,684.8 742.1,685.6" fill="#bfbfbf" stroke="#6a6a6a" stroke-width="0.6" stroke-linejoin="round"/>
<polygon points="715.6,634.1 742.1,685.6 737.9,686.4 733.6,686.9 729.2,687.4 724.8,687.7 720.4,687.9 716.0,688.0 711.6,687.9 707.2,687.7 702.8,687.4 698.5,687.0 694.2,686.4 690.0,685.7 685.8,684.8 681.7,683.9 677.8,682.8 673.9,681.6 670.1,680.3 666.5,678.9 663.0,677.3 659.7,675.7 656.5,674.0 653.5,672.2 650.7,670.3 648.0,668.3 645.5,666.2 643.3,664.1 641.2,661.9 639.3,659.6 637.7,657.3 636.3,655.0 635.1,652.6 634.1,650.2 633.4,647.7 632.8,645.2 632.6,642.8 632.5,640.3 632.7,637.8 633.1,635.3 633.8,632.9 634.6,630.4" fill="#7f7f7f" stroke="#555" stroke-width="0.6" stroke-linejoin="round"/>
<polygon points="715.6,634.1 634.6,630.4 635.7,628.0 637.0,625.7 638.6,623.4 640.3,621.1 642.3,618.9 644.4,616.8 646.8,614.7 649.3,612.7 652.0,610.8 654.9,608.9 658.0,607.2" fill="#595959" stroke="#444" stroke-width="0.6" stroke-linejoin="round"/>
<text x="728.3" y="631.5" font-size="12.4" font-weight="bold" fill="#1a1a1a" stroke="#1a1a1a" stroke-width="0.2" font-family="Liberation Sans, Arial, sans-serif" textLength="30.3" lengthAdjust="spacingAndGlyphs">59,4%</text>
<text x="651" y="626.2" font-size="12.4" font-weight="bold" fill="#1a1a1a" stroke="#1a1a1a" stroke-width="0.2" font-family="Liberation Sans, Arial, sans-serif" textLength="25" lengthAdjust="spacingAndGlyphs">9,5%</text>
<text x="677" y="657.3" font-size="12.4" font-weight="bold" fill="#1a1a1a" stroke="#1a1a1a" stroke-width="0.2" font-family="Liberation Sans, Arial, sans-serif" textLength="30" lengthAdjust="spacingAndGlyphs">31,1%</text>
<text x="652.5" y="579.2" font-size="13.8" fill="#363636" stroke="#363636" stroke-width="0.3" font-family="Liberation Sans, Arial, sans-serif" textLength="126.5" lengthAdjust="spacingAndGlyphs">Ethanol Production</text>
<polygon points="1012.5,641.0 1012.4,643.5 1012.0,646.0 1011.4,648.5 1010.6,651.0 1009.5,653.5 1008.2,655.9 1006.7,658.3 1004.9,660.6 1002.9,662.9 1000.7,665.1 998.3,667.2 995.7,669.3 992.9,671.2 990.0,673.1 986.8,674.9 983.5,676.6 980.0,678.2 976.4,679.7 972.6,681.1 968.7,682.3 964.7,683.5 960.6,684.5 956.4,685.4 952.2,686.2 952.2,703.2 956.4,702.4 960.6,701.5 964.7,700.5 968.7,699.3 972.6,698.1 976.4,696.7 980.0,695.2 983.5,693.6 986.8,691.9 990.0,690.1 992.9,688.2 995.7,686.3 998.3,684.2 1000.7,682.1 1002.9,679.9 1004.9,677.6 1006.7,675.3 1008.2,672.9 1009.5,670.5 1010.6,668.0 1011.4,665.5 1012.0,663.0 1012.4,660.5 1012.5,658.0" fill="url(#gl)" stroke="#333" stroke-width="0.5"/>
<polygon points="952.2,686.2 947.8,686.8 943.5,687.3 939.1,687.7 934.6,687.9 930.2,688.0 925.7,688.0 921.3,687.8 916.8,687.5 912.4,687.1 908.1,686.5 903.8,685.8 899.6,685.0 895.5,684.0 891.4,683.0 887.5,681.8 883.7,680.5 880.0,679.1 876.5,677.5 873.1,675.9 869.9,674.2 866.8,672.4 863.9,670.4 861.2,668.4 858.7,666.4 856.4,664.2 854.3,662.0 852.4,659.7 850.7,657.4 849.3,655.0 848.1,652.6 848.1,669.6 849.3,672.0 850.7,674.4 852.4,676.7 854.3,679.0 856.4,681.2 858.7,683.4 861.2,685.4 863.9,687.4 866.8,689.4 869.9,691.2 873.1,692.9 876.5,694.5 880.0,696.1 883.7,697.5 887.5,698.8 891.4,700.0 895.5,701.0 899.6,702.0 903.8,702.8 908.1,703.5 912.4,704.1 916.8,704.5 921.3,704.8 925.7,705.0 930.2,705.0 934.6,704.9 939.1,704.7 943.5,704.3 947.8,703.8 952.2,703.2" fill="url(#gm)" stroke="#333" stroke-width="0.5"/>
<polygon points="848.1,652.6 847.0,649.7 846.1,646.8 845.7,643.9 845.5,641.0 845.5,658.0 845.7,660.9 846.1,663.8 847.0,666.7 848.1,669.6" fill="url(#gd)" stroke="#333" stroke-width="0.5"/>
<polygon points="929.5,636.0 864.1,611.4 867.0,609.5 870.0,607.7 873.2,606.0 876.6,604.4 880.1,602.9 883.7,601.5 887.5,600.2 891.4,599.0 895.4,598.0 899.4,597.0 903.6,596.2 907.8,595.5 912.1,595.0 916.5,594.5 920.9,594.2 925.3,594.0 929.7,594.0 934.1,594.1 938.5,594.3 942.8,594.6 947.2,595.1 951.4,595.7 955.7,596.5 959.8,597.3 963.9,598.3 967.8,599.4 971.7,600.6 975.4,601.9 979.0,603.4 982.5,604.9 985.8,606.5 988.9,608.3 991.9,610.1 994.7,612.0 997.3,614.0 999.8,616.1 1002.0,618.2 1004.1,620.4 1005.9,622.7 1007.5,625.0 1008.9,627.3 1010.1,629.7 1011.0,632.2 1011.7,634.6 1012.2,637.1 1012.5,639.5 1012.5,642.0 1012.3,644.5 1011.8,647.0 1011.1,649.4 1010.2,651.9 1009.1,654.3 1007.8,656.6 1006.2,658.9 1004.4,661.2 1002.4,663.4 1000.2,665.6 997.8,667.7 995.2,669.7 992.4,671.6 989.4,673.4 986.3,675.2 983.0,676.8 979.6,678.4 976.0,679.8 972.3,681.2 968.5,682.4 964.5,683.5 960.5,684.5 956.4,685.4 952.2,686.2" fill="#bfbfbf" stroke="#6a6a6a" stroke-width="0.6" stroke-linejoin="round"/>
<polygon points="929.5,636.0 952.2,686.2 947.8,686.8 943.5,687.3 939.1,687.7 934.6,687.9 930.2,688.0 925.7,688.0 921.3,687.8 916.8,687.5 912.4,687.1 908.1,686.5 903.8,685.8 899.6,685.0 895.5,684.0 891.4,683.0 887.5,681.8 883.7,680.5 880.0,679.1 876.5,677.5 873.1,675.9 869.9,674.2 866.8,672.4 863.9,670.4 861.2,668.4 858.7,666.4 856.4,664.2 854.3,662.0 852.4,659.7 850.7,657.4 849.3,655.0 848.1,652.6" fill="#7f7f7f" stroke="#555" stroke-width="0.6" stroke-linejoin="round"/>
<polygon points="929.5,636.0 848.1,652.6 847.1,650.1 846.3,647.6 845.8,645.0 845.5,642.4 845.5,639.9 845.8,637.3 846.2,634.7 847.0,632.2 848.0,629.7 849.2,627.2 850.6,624.8 852.3,622.4 854.2,620.1 856.4,617.8 858.8,615.6 861.3,613.5 864.1,611.4" fill="#595959" stroke="#444" stroke-width="0.6" stroke-linejoin="round"/>
<text x="944" y="633.2" font-size="12.4" font-weight="bold" fill="#1a1a1a" stroke="#1a1a1a" stroke-width="0.2" font-family="Liberation Sans, Arial, sans-serif" textLength="31.4" lengthAdjust="spacingAndGlyphs">62,1%</text>
<text x="858.2" y="635.8" font-size="12.4" font-weight="bold" fill="#1a1a1a" stroke="#1a1a1a" stroke-width="0.2" font-family="Liberation Sans, Arial, sans-serif" textLength="31.2" lengthAdjust="spacingAndGlyphs">14,9%</text>
<text x="894.3" y="663.7" font-size="12.4" font-weight="bold" fill="#1a1a1a" stroke="#1a1a1a" stroke-width="0.2" font-family="Liberation Sans, Arial, sans-serif" textLength="31.3" lengthAdjust="spacingAndGlyphs">23,0%</text>
<text x="871.9" y="577.5" font-size="13.8" fill="#363636" stroke="#363636" stroke-width="0.3" font-family="Liberation Sans, Arial, sans-serif" textLength="114.2" lengthAdjust="spacingAndGlyphs">Sugar Production</text>
<rect x="526.2" y="734.1" width="21.4" height="21.2" fill="#808080" stroke="#555" stroke-width="1"/>
<text x="550.9" y="749.8" font-size="15.5" fill="#1a1a1a" stroke="#1a1a1a" stroke-width="0.3" font-family="Liberation Sans, Arial, sans-serif" textLength="93.3" lengthAdjust="spacingAndGlyphs">South Central</text>
<rect x="668.3" y="734.1" width="21.4" height="21.2" fill="#bfbfbf" stroke="#555" stroke-width="1"/>
<text x="692.2" y="749.8" font-size="15.5" fill="#1a1a1a" stroke="#1a1a1a" stroke-width="0.3" font-family="Liberation Sans, Arial, sans-serif" textLength="109.9" lengthAdjust="spacingAndGlyphs">São Paulo State</text>
<rect x="823.1" y="734.1" width="21.4" height="21.2" fill="#595959" stroke="#555" stroke-width="1"/>
<text x="848" y="749.8" font-size="15.5" fill="#1a1a1a" stroke="#1a1a1a" stroke-width="0.3" font-family="Liberation Sans, Arial, sans-serif" textLength="67" lengthAdjust="spacingAndGlyphs">Northeast</text></svg>
</body></html>
